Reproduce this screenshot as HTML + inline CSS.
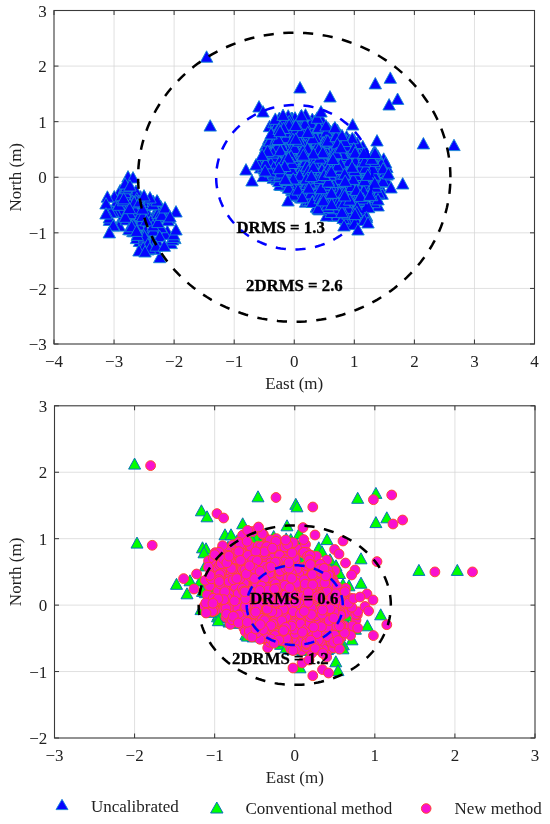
<!DOCTYPE html>
<html><head><meta charset="utf-8"><title>Scatter</title>
<style>html,body{margin:0;padding:0;background:#fff}svg{display:block}text{font-family:"Liberation Serif","Times New Roman",serif;fill:#222}text.b{font-weight:bold;fill:#000;stroke:#000;stroke-width:.3px}</style></head><body>
<svg width="550" height="824" viewBox="0 0 550 824">
<rect width="550" height="824" fill="#fff"/>
<defs><path id="tb" d="M0-6.4L6.2 5H-6.2Z" fill="#0505ff" stroke="#1488d2" stroke-width="0.9"/><path id="tg" d="M0-6.2L6 4.8H-6Z" fill="#00ff00" stroke="#0a72bd" stroke-width="1"/><circle id="cm" r="4.9" fill="#f910cf" stroke="#ff4a2e" stroke-width="1"/></defs>
<path d="M114.06 10.5V344.0M174.12 10.5V344.0M234.19 10.5V344.0M294.25 10.5V344.0M354.31 10.5V344.0M414.38 10.5V344.0M474.44 10.5V344.0M54.0 288.42H534.5M54.0 232.83H534.5M54.0 177.25H534.5M54.0 121.67H534.5M54.0 66.08H534.5" stroke="#d6d6d6" stroke-width="0.75" fill="none"/>
<g>
<use href="#tb" x="155.5" y="230.0"/>
<use href="#tb" x="141.8" y="240.3"/>
<use href="#tb" x="130.1" y="229.8"/>
<use href="#tb" x="130.5" y="200.1"/>
<use href="#tb" x="140.8" y="235.2"/>
<use href="#tb" x="128.9" y="195.5"/>
<use href="#tb" x="132.9" y="231.7"/>
<use href="#tb" x="169.2" y="218.6"/>
<use href="#tb" x="157.5" y="217.5"/>
<use href="#tb" x="122.3" y="217.7"/>
<use href="#tb" x="138.0" y="234.0"/>
<use href="#tb" x="124.8" y="189.6"/>
<use href="#tb" x="150.8" y="245.4"/>
<use href="#tb" x="118.7" y="225.7"/>
<use href="#tb" x="122.8" y="207.6"/>
<use href="#tb" x="135.9" y="224.2"/>
<use href="#tb" x="147.9" y="250.0"/>
<use href="#tb" x="135.1" y="228.2"/>
<use href="#tb" x="134.2" y="231.7"/>
<use href="#tb" x="117.0" y="201.5"/>
<use href="#tb" x="159.1" y="210.8"/>
<use href="#tb" x="150.3" y="243.0"/>
<use href="#tb" x="144.7" y="217.9"/>
<use href="#tb" x="148.7" y="243.8"/>
<use href="#tb" x="136.8" y="210.5"/>
<use href="#tb" x="166.0" y="211.0"/>
<use href="#tb" x="167.0" y="234.3"/>
<use href="#tb" x="144.6" y="231.3"/>
<use href="#tb" x="120.1" y="190.8"/>
<use href="#tb" x="143.7" y="234.7"/>
<use href="#tb" x="142.8" y="242.1"/>
<use href="#tb" x="109.5" y="220.4"/>
<use href="#tb" x="109.4" y="209.7"/>
<use href="#tb" x="154.5" y="214.8"/>
<use href="#tb" x="162.8" y="233.7"/>
<use href="#tb" x="171.2" y="243.6"/>
<use href="#tb" x="138.8" y="225.1"/>
<use href="#tb" x="119.3" y="226.1"/>
<use href="#tb" x="140.6" y="197.0"/>
<use href="#tb" x="126.5" y="214.7"/>
<use href="#tb" x="121.8" y="211.0"/>
<use href="#tb" x="134.5" y="216.4"/>
<use href="#tb" x="146.3" y="211.1"/>
<use href="#tb" x="116.2" y="212.6"/>
<use href="#tb" x="130.2" y="215.2"/>
<use href="#tb" x="146.6" y="212.2"/>
<use href="#tb" x="152.2" y="218.5"/>
<use href="#tb" x="133.6" y="209.6"/>
<use href="#tb" x="167.3" y="231.7"/>
<use href="#tb" x="153.9" y="218.6"/>
<use href="#tb" x="144.9" y="205.5"/>
<use href="#tb" x="174.9" y="238.6"/>
<use href="#tb" x="159.1" y="205.3"/>
<use href="#tb" x="128.1" y="210.3"/>
<use href="#tb" x="120.6" y="196.3"/>
<use href="#tb" x="136.8" y="209.4"/>
<use href="#tb" x="168.2" y="220.8"/>
<use href="#tb" x="139.5" y="241.5"/>
<use href="#tb" x="151.7" y="230.5"/>
<use href="#tb" x="171.7" y="239.3"/>
<use href="#tb" x="124.8" y="187.7"/>
<use href="#tb" x="144.3" y="234.6"/>
<use href="#tb" x="150.8" y="221.4"/>
<use href="#tb" x="112.8" y="211.9"/>
<use href="#tb" x="110.8" y="212.7"/>
<use href="#tb" x="136.5" y="238.6"/>
<use href="#tb" x="136.0" y="191.3"/>
<use href="#tb" x="109.3" y="218.0"/>
<use href="#tb" x="143.3" y="203.5"/>
<use href="#tb" x="160.7" y="206.6"/>
<use href="#tb" x="136.8" y="198.8"/>
<use href="#tb" x="126.5" y="204.7"/>
<use href="#tb" x="132.7" y="223.9"/>
<use href="#tb" x="126.8" y="218.1"/>
<use href="#tb" x="172.5" y="239.9"/>
<use href="#tb" x="142.5" y="205.2"/>
<use href="#tb" x="146.6" y="204.8"/>
<use href="#tb" x="145.6" y="231.4"/>
<use href="#tb" x="159.7" y="257.7"/>
<use href="#tb" x="133.1" y="207.1"/>
<use href="#tb" x="142.5" y="220.2"/>
<use href="#tb" x="123.1" y="198.8"/>
<use href="#tb" x="151.9" y="242.4"/>
<use href="#tb" x="157.9" y="213.6"/>
<use href="#tb" x="132.2" y="201.2"/>
<use href="#tb" x="138.2" y="214.3"/>
<use href="#tb" x="113.8" y="225.5"/>
<use href="#tb" x="136.7" y="201.5"/>
<use href="#tb" x="165.1" y="234.4"/>
<use href="#tb" x="133.9" y="202.2"/>
<use href="#tb" x="114.3" y="196.9"/>
<use href="#tb" x="129.9" y="204.9"/>
<use href="#tb" x="125.0" y="192.7"/>
<use href="#tb" x="143.8" y="235.6"/>
<use href="#tb" x="134.4" y="206.2"/>
<use href="#tb" x="135.4" y="211.2"/>
<use href="#tb" x="118.7" y="205.3"/>
<use href="#tb" x="160.9" y="227.7"/>
<use href="#tb" x="142.8" y="202.9"/>
<use href="#tb" x="153.3" y="241.1"/>
<use href="#tb" x="126.4" y="219.9"/>
<use href="#tb" x="144.3" y="239.1"/>
<use href="#tb" x="144.5" y="237.0"/>
<use href="#tb" x="146.2" y="201.3"/>
<use href="#tb" x="134.3" y="202.9"/>
<use href="#tb" x="157.0" y="241.0"/>
<use href="#tb" x="153.5" y="227.8"/>
<use href="#tb" x="121.5" y="195.8"/>
<use href="#tb" x="157.4" y="201.6"/>
<use href="#tb" x="140.1" y="215.7"/>
<use href="#tb" x="153.3" y="230.9"/>
<use href="#tb" x="159.7" y="236.6"/>
<use href="#tb" x="147.8" y="244.6"/>
<use href="#tb" x="153.0" y="225.9"/>
<use href="#tb" x="135.5" y="231.4"/>
<use href="#tb" x="154.2" y="249.3"/>
<use href="#tb" x="144.0" y="203.5"/>
<use href="#tb" x="168.8" y="216.0"/>
<use href="#tb" x="107.4" y="197.2"/>
<use href="#tb" x="153.2" y="201.5"/>
<use href="#tb" x="173.6" y="237.4"/>
<use href="#tb" x="129.7" y="213.7"/>
<use href="#tb" x="143.2" y="248.1"/>
<use href="#tb" x="123.5" y="200.8"/>
<use href="#tb" x="126.2" y="188.8"/>
<use href="#tb" x="135.6" y="228.2"/>
<use href="#tb" x="128.9" y="229.7"/>
<use href="#tb" x="133.7" y="226.0"/>
<use href="#tb" x="173.7" y="234.8"/>
<use href="#tb" x="149.7" y="248.9"/>
<use href="#tb" x="125.3" y="217.3"/>
<use href="#tb" x="143.7" y="216.2"/>
<use href="#tb" x="126.8" y="186.8"/>
<use href="#tb" x="113.3" y="225.9"/>
<use href="#tb" x="157.9" y="222.6"/>
<use href="#tb" x="131.6" y="226.8"/>
<use href="#tb" x="129.5" y="208.7"/>
<use href="#tb" x="153.0" y="204.8"/>
<use href="#tb" x="161.0" y="212.9"/>
<use href="#tb" x="109.3" y="232.9"/>
<use href="#tb" x="161.8" y="215.4"/>
<use href="#tb" x="123.7" y="198.9"/>
<use href="#tb" x="137.3" y="235.4"/>
<use href="#tb" x="142.7" y="216.4"/>
<use href="#tb" x="156.1" y="246.2"/>
<use href="#tb" x="164.3" y="246.3"/>
<use href="#tb" x="146.4" y="220.9"/>
<use href="#tb" x="136.5" y="231.4"/>
<use href="#tb" x="139.7" y="201.9"/>
<use href="#tb" x="142.6" y="209.1"/>
<use href="#tb" x="300.3" y="153.2"/>
<use href="#tb" x="361.5" y="183.4"/>
<use href="#tb" x="362.8" y="146.7"/>
<use href="#tb" x="334.7" y="143.1"/>
<use href="#tb" x="311.1" y="177.2"/>
<use href="#tb" x="314.6" y="200.0"/>
<use href="#tb" x="281.7" y="133.6"/>
<use href="#tb" x="347.1" y="192.2"/>
<use href="#tb" x="343.8" y="144.0"/>
<use href="#tb" x="364.6" y="160.5"/>
<use href="#tb" x="288.9" y="181.5"/>
<use href="#tb" x="269.8" y="147.3"/>
<use href="#tb" x="342.5" y="154.2"/>
<use href="#tb" x="354.7" y="155.7"/>
<use href="#tb" x="353.3" y="212.8"/>
<use href="#tb" x="314.0" y="134.7"/>
<use href="#tb" x="384.5" y="174.5"/>
<use href="#tb" x="269.0" y="149.3"/>
<use href="#tb" x="316.9" y="150.9"/>
<use href="#tb" x="335.5" y="182.4"/>
<use href="#tb" x="331.5" y="146.3"/>
<use href="#tb" x="357.4" y="204.5"/>
<use href="#tb" x="313.7" y="193.2"/>
<use href="#tb" x="318.0" y="136.9"/>
<use href="#tb" x="335.0" y="197.5"/>
<use href="#tb" x="281.6" y="160.7"/>
<use href="#tb" x="366.4" y="215.7"/>
<use href="#tb" x="301.7" y="149.9"/>
<use href="#tb" x="267.6" y="164.9"/>
<use href="#tb" x="307.2" y="138.6"/>
<use href="#tb" x="317.2" y="173.7"/>
<use href="#tb" x="260.6" y="168.0"/>
<use href="#tb" x="301.5" y="173.7"/>
<use href="#tb" x="300.8" y="182.1"/>
<use href="#tb" x="320.5" y="164.4"/>
<use href="#tb" x="325.4" y="179.4"/>
<use href="#tb" x="305.5" y="172.2"/>
<use href="#tb" x="283.0" y="169.8"/>
<use href="#tb" x="351.6" y="168.8"/>
<use href="#tb" x="347.8" y="185.1"/>
<use href="#tb" x="299.6" y="173.4"/>
<use href="#tb" x="368.5" y="190.1"/>
<use href="#tb" x="309.9" y="189.3"/>
<use href="#tb" x="345.3" y="150.9"/>
<use href="#tb" x="355.0" y="218.9"/>
<use href="#tb" x="322.4" y="159.7"/>
<use href="#tb" x="293.9" y="134.7"/>
<use href="#tb" x="329.3" y="214.1"/>
<use href="#tb" x="365.7" y="188.6"/>
<use href="#tb" x="276.7" y="139.9"/>
<use href="#tb" x="264.5" y="165.1"/>
<use href="#tb" x="293.3" y="162.7"/>
<use href="#tb" x="276.4" y="165.7"/>
<use href="#tb" x="364.0" y="171.7"/>
<use href="#tb" x="352.1" y="195.9"/>
<use href="#tb" x="315.2" y="167.5"/>
<use href="#tb" x="333.5" y="129.6"/>
<use href="#tb" x="336.1" y="196.0"/>
<use href="#tb" x="295.5" y="148.9"/>
<use href="#tb" x="301.7" y="160.7"/>
<use href="#tb" x="279.4" y="146.0"/>
<use href="#tb" x="304.8" y="192.0"/>
<use href="#tb" x="322.2" y="171.1"/>
<use href="#tb" x="329.2" y="161.7"/>
<use href="#tb" x="289.7" y="158.4"/>
<use href="#tb" x="323.1" y="138.0"/>
<use href="#tb" x="304.6" y="154.3"/>
<use href="#tb" x="275.8" y="139.9"/>
<use href="#tb" x="326.6" y="178.3"/>
<use href="#tb" x="332.4" y="152.6"/>
<use href="#tb" x="333.3" y="200.2"/>
<use href="#tb" x="294.6" y="179.5"/>
<use href="#tb" x="353.3" y="157.6"/>
<use href="#tb" x="352.7" y="211.7"/>
<use href="#tb" x="317.1" y="150.9"/>
<use href="#tb" x="315.5" y="156.8"/>
<use href="#tb" x="344.3" y="158.6"/>
<use href="#tb" x="316.6" y="150.0"/>
<use href="#tb" x="319.9" y="207.5"/>
<use href="#tb" x="323.6" y="125.7"/>
<use href="#tb" x="358.8" y="155.2"/>
<use href="#tb" x="285.7" y="152.5"/>
<use href="#tb" x="385.1" y="168.5"/>
<use href="#tb" x="310.1" y="182.7"/>
<use href="#tb" x="280.5" y="142.7"/>
<use href="#tb" x="297.3" y="169.4"/>
<use href="#tb" x="387.3" y="182.2"/>
<use href="#tb" x="332.5" y="186.9"/>
<use href="#tb" x="344.6" y="202.3"/>
<use href="#tb" x="308.8" y="141.4"/>
<use href="#tb" x="335.7" y="161.9"/>
<use href="#tb" x="318.6" y="147.5"/>
<use href="#tb" x="356.9" y="204.7"/>
<use href="#tb" x="325.2" y="163.8"/>
<use href="#tb" x="329.0" y="133.7"/>
<use href="#tb" x="301.7" y="189.5"/>
<use href="#tb" x="286.7" y="186.2"/>
<use href="#tb" x="334.1" y="205.1"/>
<use href="#tb" x="301.8" y="163.2"/>
<use href="#tb" x="354.2" y="153.9"/>
<use href="#tb" x="334.2" y="189.3"/>
<use href="#tb" x="343.5" y="149.4"/>
<use href="#tb" x="358.5" y="154.8"/>
<use href="#tb" x="334.4" y="185.7"/>
<use href="#tb" x="321.5" y="182.0"/>
<use href="#tb" x="291.3" y="172.0"/>
<use href="#tb" x="350.4" y="217.1"/>
<use href="#tb" x="344.6" y="191.8"/>
<use href="#tb" x="290.9" y="140.1"/>
<use href="#tb" x="313.0" y="184.6"/>
<use href="#tb" x="275.2" y="147.7"/>
<use href="#tb" x="317.3" y="187.1"/>
<use href="#tb" x="272.7" y="168.3"/>
<use href="#tb" x="295.4" y="185.5"/>
<use href="#tb" x="358.6" y="207.8"/>
<use href="#tb" x="373.8" y="183.1"/>
<use href="#tb" x="339.9" y="154.3"/>
<use href="#tb" x="335.3" y="155.5"/>
<use href="#tb" x="291.0" y="182.5"/>
<use href="#tb" x="291.4" y="118.4"/>
<use href="#tb" x="329.8" y="155.6"/>
<use href="#tb" x="344.6" y="159.3"/>
<use href="#tb" x="370.5" y="182.5"/>
<use href="#tb" x="349.7" y="140.6"/>
<use href="#tb" x="305.6" y="202.2"/>
<use href="#tb" x="334.5" y="189.1"/>
<use href="#tb" x="348.0" y="140.4"/>
<use href="#tb" x="312.8" y="129.4"/>
<use href="#tb" x="338.6" y="155.7"/>
<use href="#tb" x="343.4" y="170.0"/>
<use href="#tb" x="277.2" y="179.8"/>
<use href="#tb" x="356.5" y="178.0"/>
<use href="#tb" x="265.8" y="145.3"/>
<use href="#tb" x="348.3" y="207.4"/>
<use href="#tb" x="343.3" y="170.3"/>
<use href="#tb" x="378.1" y="206.0"/>
<use href="#tb" x="322.3" y="147.3"/>
<use href="#tb" x="297.4" y="135.8"/>
<use href="#tb" x="306.8" y="139.8"/>
<use href="#tb" x="267.6" y="169.4"/>
<use href="#tb" x="288.5" y="132.3"/>
<use href="#tb" x="300.3" y="185.4"/>
<use href="#tb" x="328.1" y="129.5"/>
<use href="#tb" x="292.9" y="132.0"/>
<use href="#tb" x="318.6" y="127.3"/>
<use href="#tb" x="281.0" y="185.5"/>
<use href="#tb" x="354.8" y="207.1"/>
<use href="#tb" x="281.1" y="164.8"/>
<use href="#tb" x="309.7" y="175.8"/>
<use href="#tb" x="281.0" y="177.8"/>
<use href="#tb" x="355.7" y="161.6"/>
<use href="#tb" x="350.3" y="185.6"/>
<use href="#tb" x="347.6" y="197.1"/>
<use href="#tb" x="302.0" y="173.4"/>
<use href="#tb" x="281.4" y="150.8"/>
<use href="#tb" x="279.3" y="150.8"/>
<use href="#tb" x="357.3" y="163.1"/>
<use href="#tb" x="370.0" y="188.8"/>
<use href="#tb" x="364.9" y="167.9"/>
<use href="#tb" x="296.4" y="192.8"/>
<use href="#tb" x="356.4" y="188.5"/>
<use href="#tb" x="298.4" y="193.4"/>
<use href="#tb" x="286.0" y="133.5"/>
<use href="#tb" x="341.2" y="159.8"/>
<use href="#tb" x="351.8" y="176.1"/>
<use href="#tb" x="287.8" y="166.8"/>
<use href="#tb" x="346.3" y="192.5"/>
<use href="#tb" x="313.4" y="169.2"/>
<use href="#tb" x="307.0" y="149.3"/>
<use href="#tb" x="323.8" y="167.6"/>
<use href="#tb" x="340.1" y="135.2"/>
<use href="#tb" x="349.8" y="156.9"/>
<use href="#tb" x="303.7" y="145.5"/>
<use href="#tb" x="357.0" y="163.6"/>
<use href="#tb" x="337.2" y="199.7"/>
<use href="#tb" x="267.5" y="151.6"/>
<use href="#tb" x="279.8" y="185.1"/>
<use href="#tb" x="288.6" y="144.5"/>
<use href="#tb" x="336.6" y="167.9"/>
<use href="#tb" x="297.6" y="153.8"/>
<use href="#tb" x="335.1" y="176.3"/>
<use href="#tb" x="293.3" y="157.8"/>
<use href="#tb" x="312.4" y="166.1"/>
<use href="#tb" x="332.2" y="181.2"/>
<use href="#tb" x="342.8" y="170.3"/>
<use href="#tb" x="373.5" y="162.3"/>
<use href="#tb" x="325.0" y="179.5"/>
<use href="#tb" x="330.9" y="140.0"/>
<use href="#tb" x="278.5" y="130.9"/>
<use href="#tb" x="314.2" y="174.6"/>
<use href="#tb" x="326.8" y="162.6"/>
<use href="#tb" x="346.2" y="180.4"/>
<use href="#tb" x="315.9" y="153.9"/>
<use href="#tb" x="375.9" y="200.1"/>
<use href="#tb" x="379.8" y="186.2"/>
<use href="#tb" x="320.1" y="122.2"/>
<use href="#tb" x="295.1" y="167.4"/>
<use href="#tb" x="297.7" y="143.4"/>
<use href="#tb" x="331.5" y="184.4"/>
<use href="#tb" x="292.3" y="118.6"/>
<use href="#tb" x="313.0" y="187.0"/>
<use href="#tb" x="300.3" y="128.7"/>
<use href="#tb" x="317.7" y="135.3"/>
<use href="#tb" x="295.2" y="158.1"/>
<use href="#tb" x="378.0" y="189.7"/>
<use href="#tb" x="326.7" y="156.6"/>
<use href="#tb" x="317.5" y="198.6"/>
<use href="#tb" x="333.9" y="216.2"/>
<use href="#tb" x="334.7" y="137.2"/>
<use href="#tb" x="333.6" y="183.1"/>
<use href="#tb" x="292.3" y="150.8"/>
<use href="#tb" x="331.0" y="187.8"/>
<use href="#tb" x="296.0" y="143.7"/>
<use href="#tb" x="267.2" y="157.7"/>
<use href="#tb" x="293.0" y="125.1"/>
<use href="#tb" x="294.8" y="141.4"/>
<use href="#tb" x="268.9" y="138.7"/>
<use href="#tb" x="357.6" y="180.5"/>
<use href="#tb" x="324.5" y="183.6"/>
<use href="#tb" x="298.7" y="176.6"/>
<use href="#tb" x="318.6" y="196.2"/>
<use href="#tb" x="319.2" y="167.7"/>
<use href="#tb" x="318.8" y="205.6"/>
<use href="#tb" x="338.2" y="181.8"/>
<use href="#tb" x="335.3" y="155.7"/>
<use href="#tb" x="344.3" y="155.7"/>
<use href="#tb" x="362.1" y="190.6"/>
<use href="#tb" x="358.0" y="165.4"/>
<use href="#tb" x="322.5" y="161.6"/>
<use href="#tb" x="278.8" y="124.3"/>
<use href="#tb" x="275.8" y="167.0"/>
<use href="#tb" x="338.0" y="215.8"/>
<use href="#tb" x="280.4" y="174.8"/>
<use href="#tb" x="300.8" y="197.9"/>
<use href="#tb" x="331.6" y="204.8"/>
<use href="#tb" x="338.5" y="161.1"/>
<use href="#tb" x="310.5" y="164.6"/>
<use href="#tb" x="293.2" y="190.2"/>
<use href="#tb" x="324.2" y="190.7"/>
<use href="#tb" x="337.2" y="168.5"/>
<use href="#tb" x="317.3" y="127.8"/>
<use href="#tb" x="345.3" y="152.4"/>
<use href="#tb" x="290.7" y="139.4"/>
<use href="#tb" x="278.1" y="177.2"/>
<use href="#tb" x="307.6" y="148.2"/>
<use href="#tb" x="343.1" y="208.5"/>
<use href="#tb" x="362.6" y="192.3"/>
<use href="#tb" x="363.8" y="185.4"/>
<use href="#tb" x="286.0" y="181.4"/>
<use href="#tb" x="319.7" y="131.0"/>
<use href="#tb" x="343.6" y="187.2"/>
<use href="#tb" x="323.0" y="133.9"/>
<use href="#tb" x="303.4" y="165.7"/>
<use href="#tb" x="325.3" y="152.1"/>
<use href="#tb" x="329.4" y="147.3"/>
<use href="#tb" x="324.3" y="200.4"/>
<use href="#tb" x="363.4" y="190.0"/>
<use href="#tb" x="285.3" y="122.9"/>
<use href="#tb" x="341.1" y="197.0"/>
<use href="#tb" x="330.6" y="183.7"/>
<use href="#tb" x="378.3" y="187.3"/>
<use href="#tb" x="329.1" y="161.7"/>
<use href="#tb" x="276.0" y="164.0"/>
<use href="#tb" x="383.3" y="171.2"/>
<use href="#tb" x="334.6" y="137.4"/>
<use href="#tb" x="287.5" y="174.5"/>
<use href="#tb" x="316.4" y="153.2"/>
<use href="#tb" x="351.4" y="161.2"/>
<use href="#tb" x="281.1" y="129.5"/>
<use href="#tb" x="340.9" y="182.9"/>
<use href="#tb" x="355.6" y="172.9"/>
<use href="#tb" x="306.4" y="177.3"/>
<use href="#tb" x="301.7" y="146.6"/>
<use href="#tb" x="319.6" y="183.9"/>
<use href="#tb" x="333.1" y="187.5"/>
<use href="#tb" x="316.3" y="142.8"/>
<use href="#tb" x="324.0" y="187.4"/>
<use href="#tb" x="284.2" y="181.5"/>
<use href="#tb" x="267.4" y="159.6"/>
<use href="#tb" x="292.4" y="143.5"/>
<use href="#tb" x="341.5" y="178.8"/>
<use href="#tb" x="299.5" y="177.4"/>
<use href="#tb" x="289.0" y="160.3"/>
<use href="#tb" x="340.7" y="154.9"/>
<use href="#tb" x="342.5" y="177.1"/>
<use href="#tb" x="354.2" y="201.7"/>
<use href="#tb" x="283.0" y="168.3"/>
<use href="#tb" x="345.8" y="219.7"/>
<use href="#tb" x="339.3" y="184.6"/>
<use href="#tb" x="371.0" y="186.1"/>
<use href="#tb" x="342.0" y="197.3"/>
<use href="#tb" x="297.5" y="159.0"/>
<use href="#tb" x="383.7" y="159.2"/>
<use href="#tb" x="356.9" y="195.3"/>
<use href="#tb" x="357.3" y="179.9"/>
<use href="#tb" x="345.7" y="152.1"/>
<use href="#tb" x="347.0" y="174.9"/>
<use href="#tb" x="289.6" y="152.6"/>
<use href="#tb" x="294.9" y="141.4"/>
<use href="#tb" x="343.8" y="193.2"/>
<use href="#tb" x="307.7" y="180.8"/>
<use href="#tb" x="322.1" y="204.2"/>
<use href="#tb" x="305.8" y="153.4"/>
<use href="#tb" x="328.5" y="128.9"/>
<use href="#tb" x="295.9" y="162.9"/>
<use href="#tb" x="377.7" y="182.7"/>
<use href="#tb" x="325.4" y="143.0"/>
<use href="#tb" x="363.7" y="175.2"/>
<use href="#tb" x="300.1" y="167.7"/>
<use href="#tb" x="319.7" y="130.6"/>
<use href="#tb" x="294.8" y="172.3"/>
<use href="#tb" x="367.2" y="167.9"/>
<use href="#tb" x="317.4" y="190.2"/>
<use href="#tb" x="299.8" y="138.9"/>
<use href="#tb" x="319.3" y="200.8"/>
<use href="#tb" x="303.5" y="123.0"/>
<use href="#tb" x="271.8" y="137.4"/>
<use href="#tb" x="289.7" y="128.9"/>
<use href="#tb" x="316.8" y="196.1"/>
<use href="#tb" x="378.5" y="167.2"/>
<use href="#tb" x="323.1" y="175.6"/>
<use href="#tb" x="307.7" y="178.1"/>
<use href="#tb" x="376.4" y="185.6"/>
<use href="#tb" x="290.8" y="134.0"/>
<use href="#tb" x="279.7" y="152.5"/>
<use href="#tb" x="361.3" y="189.8"/>
<use href="#tb" x="314.2" y="176.6"/>
<use href="#tb" x="273.3" y="178.3"/>
<use href="#tb" x="309.3" y="198.5"/>
<use href="#tb" x="328.7" y="160.5"/>
<use href="#tb" x="347.4" y="158.7"/>
<use href="#tb" x="328.7" y="193.7"/>
<use href="#tb" x="342.0" y="189.5"/>
<use href="#tb" x="336.8" y="208.7"/>
<use href="#tb" x="296.4" y="181.6"/>
<use href="#tb" x="323.2" y="180.9"/>
<use href="#tb" x="300.9" y="165.5"/>
<use href="#tb" x="365.3" y="154.2"/>
<use href="#tb" x="282.9" y="134.0"/>
<use href="#tb" x="337.8" y="171.1"/>
<use href="#tb" x="384.7" y="167.7"/>
<use href="#tb" x="328.2" y="166.2"/>
<use href="#tb" x="315.6" y="175.4"/>
<use href="#tb" x="347.4" y="193.9"/>
<use href="#tb" x="343.9" y="170.8"/>
<use href="#tb" x="275.0" y="166.8"/>
<use href="#tb" x="356.2" y="196.4"/>
<use href="#tb" x="277.1" y="129.2"/>
<use href="#tb" x="299.6" y="140.5"/>
<use href="#tb" x="310.9" y="135.1"/>
<use href="#tb" x="362.4" y="171.8"/>
<use href="#tb" x="353.6" y="183.0"/>
<use href="#tb" x="386.9" y="167.6"/>
<use href="#tb" x="342.2" y="179.7"/>
<use href="#tb" x="304.3" y="168.1"/>
<use href="#tb" x="304.1" y="136.0"/>
<use href="#tb" x="324.0" y="139.2"/>
<use href="#tb" x="354.6" y="224.4"/>
<use href="#tb" x="326.3" y="158.9"/>
<use href="#tb" x="336.0" y="178.9"/>
<use href="#tb" x="322.2" y="201.7"/>
<use href="#tb" x="307.3" y="184.4"/>
<use href="#tb" x="359.3" y="160.4"/>
<use href="#tb" x="329.8" y="173.5"/>
<use href="#tb" x="322.4" y="208.1"/>
<use href="#tb" x="293.4" y="192.5"/>
<use href="#tb" x="329.6" y="149.5"/>
<use href="#tb" x="277.7" y="144.9"/>
<use href="#tb" x="355.9" y="144.2"/>
<use href="#tb" x="336.2" y="153.9"/>
<use href="#tb" x="325.0" y="139.7"/>
<use href="#tb" x="291.3" y="135.2"/>
<use href="#tb" x="334.2" y="212.3"/>
<use href="#tb" x="335.1" y="128.8"/>
<use href="#tb" x="325.2" y="133.5"/>
<use href="#tb" x="292.4" y="158.1"/>
<use href="#tb" x="323.6" y="203.4"/>
<use href="#tb" x="346.0" y="208.1"/>
<use href="#tb" x="325.3" y="167.6"/>
<use href="#tb" x="303.8" y="167.9"/>
<use href="#tb" x="321.7" y="171.7"/>
<use href="#tb" x="364.0" y="172.8"/>
<use href="#tb" x="310.3" y="178.7"/>
<use href="#tb" x="308.6" y="184.1"/>
<use href="#tb" x="268.0" y="149.4"/>
<use href="#tb" x="292.1" y="120.6"/>
<use href="#tb" x="312.6" y="128.9"/>
<use href="#tb" x="330.6" y="164.8"/>
<use href="#tb" x="349.3" y="222.4"/>
<use href="#tb" x="361.1" y="191.2"/>
<use href="#tb" x="288.8" y="136.0"/>
<use href="#tb" x="319.8" y="207.7"/>
<use href="#tb" x="357.5" y="163.5"/>
<use href="#tb" x="345.9" y="142.0"/>
<use href="#tb" x="303.3" y="160.5"/>
<use href="#tb" x="292.1" y="123.1"/>
<use href="#tb" x="292.7" y="179.1"/>
<use href="#tb" x="308.7" y="197.6"/>
<use href="#tb" x="307.9" y="200.9"/>
<use href="#tb" x="301.9" y="171.9"/>
<use href="#tb" x="346.9" y="178.0"/>
<use href="#tb" x="379.6" y="168.1"/>
<use href="#tb" x="307.4" y="175.4"/>
<use href="#tb" x="329.6" y="206.9"/>
<use href="#tb" x="378.8" y="191.9"/>
<use href="#tb" x="354.0" y="140.1"/>
<use href="#tb" x="291.9" y="160.6"/>
<use href="#tb" x="290.1" y="141.3"/>
<use href="#tb" x="340.7" y="202.3"/>
<use href="#tb" x="299.9" y="165.2"/>
<use href="#tb" x="311.9" y="168.8"/>
<use href="#tb" x="291.9" y="190.4"/>
<use href="#tb" x="289.1" y="151.9"/>
<use href="#tb" x="304.0" y="162.5"/>
<use href="#tb" x="300.7" y="132.9"/>
<use href="#tb" x="360.8" y="151.6"/>
<use href="#tb" x="352.0" y="183.2"/>
<use href="#tb" x="304.8" y="192.4"/>
<use href="#tb" x="370.8" y="180.6"/>
<use href="#tb" x="325.3" y="160.8"/>
<use href="#tb" x="282.5" y="156.4"/>
<use href="#tb" x="330.6" y="156.9"/>
<use href="#tb" x="292.3" y="141.9"/>
<use href="#tb" x="286.0" y="156.0"/>
<use href="#tb" x="298.2" y="174.8"/>
<use href="#tb" x="310.9" y="155.0"/>
<use href="#tb" x="313.9" y="150.8"/>
<use href="#tb" x="269.5" y="126.7"/>
<use href="#tb" x="343.8" y="181.2"/>
<use href="#tb" x="308.8" y="173.7"/>
<use href="#tb" x="349.2" y="145.1"/>
<use href="#tb" x="308.2" y="154.9"/>
<use href="#tb" x="349.0" y="186.6"/>
<use href="#tb" x="302.5" y="120.0"/>
<use href="#tb" x="373.3" y="183.6"/>
<use href="#tb" x="295.2" y="130.7"/>
<use href="#tb" x="339.5" y="167.4"/>
<use href="#tb" x="387.0" y="175.1"/>
<use href="#tb" x="321.6" y="166.1"/>
<use href="#tb" x="314.8" y="183.1"/>
<use href="#tb" x="330.9" y="170.7"/>
<use href="#tb" x="293.4" y="143.9"/>
<use href="#tb" x="346.6" y="136.9"/>
<use href="#tb" x="345.3" y="192.4"/>
<use href="#tb" x="323.3" y="151.8"/>
<use href="#tb" x="327.5" y="152.6"/>
<use href="#tb" x="282.0" y="153.8"/>
<use href="#tb" x="365.9" y="162.4"/>
<use href="#tb" x="300.3" y="189.4"/>
<use href="#tb" x="267.3" y="154.1"/>
<use href="#tb" x="346.0" y="188.1"/>
<use href="#tb" x="316.5" y="175.6"/>
<use href="#tb" x="343.8" y="199.3"/>
<use href="#tb" x="298.0" y="128.7"/>
<use href="#tb" x="291.4" y="188.8"/>
<use href="#tb" x="295.0" y="118.1"/>
<use href="#tb" x="377.5" y="194.3"/>
<use href="#tb" x="356.4" y="210.7"/>
<use href="#tb" x="386.6" y="173.5"/>
<use href="#tb" x="371.4" y="193.4"/>
<use href="#tb" x="360.1" y="198.4"/>
<use href="#tb" x="373.8" y="200.4"/>
<use href="#tb" x="334.1" y="172.5"/>
<use href="#tb" x="294.2" y="171.1"/>
<use href="#tb" x="317.1" y="169.5"/>
<use href="#tb" x="338.6" y="190.9"/>
<use href="#tb" x="336.6" y="132.8"/>
<use href="#tb" x="352.7" y="150.5"/>
<use href="#tb" x="316.6" y="139.1"/>
<use href="#tb" x="342.0" y="191.3"/>
<use href="#tb" x="300.0" y="196.2"/>
<use href="#tb" x="339.2" y="189.5"/>
<use href="#tb" x="335.3" y="197.3"/>
<use href="#tb" x="354.3" y="201.7"/>
<use href="#tb" x="318.9" y="140.3"/>
<use href="#tb" x="340.7" y="158.6"/>
<use href="#tb" x="278.8" y="181.6"/>
<use href="#tb" x="301.8" y="197.9"/>
<use href="#tb" x="305.7" y="151.9"/>
<use href="#tb" x="375.6" y="153.1"/>
<use href="#tb" x="360.7" y="177.6"/>
<use href="#tb" x="299.9" y="190.8"/>
<use href="#tb" x="347.5" y="177.6"/>
<use href="#tb" x="329.6" y="184.9"/>
<use href="#tb" x="317.8" y="168.2"/>
<use href="#tb" x="324.9" y="187.9"/>
<use href="#tb" x="337.3" y="216.0"/>
<use href="#tb" x="345.9" y="139.8"/>
<use href="#tb" x="328.1" y="140.4"/>
<use href="#tb" x="328.5" y="168.8"/>
<use href="#tb" x="274.0" y="169.8"/>
<use href="#tb" x="374.6" y="169.9"/>
<use href="#tb" x="344.4" y="189.1"/>
<use href="#tb" x="348.5" y="218.5"/>
<use href="#tb" x="321.4" y="124.8"/>
<use href="#tb" x="325.8" y="175.1"/>
<use href="#tb" x="342.1" y="192.9"/>
<use href="#tb" x="310.0" y="192.0"/>
<use href="#tb" x="300.5" y="152.2"/>
<use href="#tb" x="327.2" y="166.1"/>
<use href="#tb" x="362.4" y="153.7"/>
<use href="#tb" x="318.5" y="209.1"/>
<use href="#tb" x="346.7" y="143.3"/>
<use href="#tb" x="325.5" y="199.3"/>
<use href="#tb" x="286.9" y="130.1"/>
<use href="#tb" x="343.6" y="161.7"/>
<use href="#tb" x="265.8" y="147.9"/>
<use href="#tb" x="286.1" y="148.0"/>
<use href="#tb" x="295.4" y="192.8"/>
<use href="#tb" x="279.3" y="118.5"/>
<use href="#tb" x="321.5" y="199.8"/>
<use href="#tb" x="374.5" y="164.5"/>
<use href="#tb" x="280.1" y="123.8"/>
<use href="#tb" x="273.7" y="133.4"/>
<use href="#tb" x="320.4" y="134.6"/>
<use href="#tb" x="344.4" y="166.2"/>
<use href="#tb" x="293.8" y="167.7"/>
<use href="#tb" x="357.9" y="195.6"/>
<use href="#tb" x="364.3" y="164.1"/>
<use href="#tb" x="361.9" y="151.7"/>
<use href="#tb" x="367.9" y="169.1"/>
<use href="#tb" x="264.8" y="158.2"/>
<use href="#tb" x="349.8" y="161.5"/>
<use href="#tb" x="312.0" y="171.8"/>
<use href="#tb" x="335.8" y="154.2"/>
<use href="#tb" x="302.0" y="194.2"/>
<use href="#tb" x="311.1" y="136.5"/>
<use href="#tb" x="286.0" y="148.2"/>
<use href="#tb" x="280.8" y="142.4"/>
<use href="#tb" x="303.5" y="171.0"/>
<use href="#tb" x="295.7" y="154.2"/>
<use href="#tb" x="329.9" y="189.9"/>
<use href="#tb" x="335.1" y="178.7"/>
<use href="#tb" x="350.9" y="152.7"/>
<use href="#tb" x="360.1" y="168.4"/>
<use href="#tb" x="342.1" y="197.7"/>
<use href="#tb" x="366.9" y="193.6"/>
<use href="#tb" x="286.3" y="156.5"/>
<use href="#tb" x="330.0" y="131.4"/>
<use href="#tb" x="329.0" y="173.5"/>
<use href="#tb" x="304.5" y="153.9"/>
<use href="#tb" x="355.1" y="164.9"/>
<use href="#tb" x="342.9" y="170.9"/>
<use href="#tb" x="374.4" y="166.9"/>
<use href="#tb" x="275.4" y="169.7"/>
<use href="#tb" x="343.9" y="216.0"/>
<use href="#tb" x="345.0" y="144.0"/>
<use href="#tb" x="330.0" y="146.5"/>
<use href="#tb" x="327.8" y="163.3"/>
<use href="#tb" x="348.3" y="165.4"/>
<use href="#tb" x="366.0" y="216.2"/>
<use href="#tb" x="346.7" y="182.3"/>
<use href="#tb" x="377.8" y="156.3"/>
<use href="#tb" x="332.7" y="193.5"/>
<use href="#tb" x="325.1" y="159.7"/>
<use href="#tb" x="356.1" y="143.8"/>
<use href="#tb" x="333.2" y="173.3"/>
<use href="#tb" x="286.0" y="175.5"/>
<use href="#tb" x="374.1" y="202.7"/>
<use href="#tb" x="340.0" y="203.1"/>
<use href="#tb" x="312.3" y="119.5"/>
<use href="#tb" x="314.6" y="121.7"/>
<use href="#tb" x="295.0" y="195.8"/>
<use href="#tb" x="334.8" y="163.9"/>
<use href="#tb" x="319.1" y="174.1"/>
<use href="#tb" x="308.8" y="166.7"/>
<use href="#tb" x="271.5" y="176.0"/>
<use href="#tb" x="327.8" y="134.7"/>
<use href="#tb" x="306.8" y="145.4"/>
<use href="#tb" x="374.0" y="161.2"/>
<use href="#tb" x="330.6" y="198.7"/>
<use href="#tb" x="296.4" y="134.4"/>
<use href="#tb" x="338.6" y="179.3"/>
<use href="#tb" x="358.1" y="147.1"/>
<use href="#tb" x="317.6" y="180.8"/>
<use href="#tb" x="294.0" y="174.9"/>
<use href="#tb" x="300.2" y="152.6"/>
<use href="#tb" x="333.0" y="203.3"/>
<use href="#tb" x="329.5" y="161.5"/>
<use href="#tb" x="276.3" y="176.8"/>
<use href="#tb" x="290.7" y="125.7"/>
<use href="#tb" x="319.8" y="160.2"/>
<use href="#tb" x="308.3" y="158.7"/>
<use href="#tb" x="268.2" y="150.3"/>
<use href="#tb" x="349.3" y="186.6"/>
<use href="#tb" x="333.0" y="158.3"/>
<use href="#tb" x="275.0" y="171.8"/>
<use href="#tb" x="280.7" y="168.7"/>
<use href="#tb" x="308.7" y="173.2"/>
<use href="#tb" x="322.8" y="203.2"/>
<use href="#tb" x="330.0" y="154.5"/>
<use href="#tb" x="322.3" y="131.7"/>
<use href="#tb" x="385.7" y="163.0"/>
<use href="#tb" x="327.9" y="205.0"/>
<use href="#tb" x="315.5" y="180.0"/>
<use href="#tb" x="303.9" y="136.9"/>
<use href="#tb" x="335.4" y="158.8"/>
<use href="#tb" x="356.9" y="152.3"/>
<use href="#tb" x="288.2" y="116.1"/>
<use href="#tb" x="354.1" y="180.4"/>
<use href="#tb" x="298.6" y="180.5"/>
<use href="#tb" x="270.0" y="141.2"/>
<use href="#tb" x="303.1" y="156.1"/>
<use href="#tb" x="350.2" y="198.7"/>
<use href="#tb" x="350.2" y="207.0"/>
<use href="#tb" x="367.8" y="161.5"/>
<use href="#tb" x="316.5" y="161.4"/>
<use href="#tb" x="309.3" y="127.1"/>
<use href="#tb" x="345.0" y="163.8"/>
<use href="#tb" x="265.6" y="158.2"/>
<use href="#tb" x="334.8" y="187.1"/>
<use href="#tb" x="327.7" y="154.7"/>
<use href="#tb" x="345.6" y="219.1"/>
<use href="#tb" x="308.8" y="155.3"/>
<use href="#tb" x="309.0" y="131.3"/>
<use href="#tb" x="329.6" y="147.3"/>
<use href="#tb" x="281.9" y="121.9"/>
<use href="#tb" x="306.6" y="194.1"/>
<use href="#tb" x="320.2" y="171.1"/>
<use href="#tb" x="325.9" y="159.0"/>
<use href="#tb" x="385.0" y="172.5"/>
<use href="#tb" x="310.7" y="175.4"/>
<use href="#tb" x="297.1" y="183.1"/>
<use href="#tb" x="349.9" y="195.0"/>
<use href="#tb" x="326.7" y="203.0"/>
<use href="#tb" x="273.9" y="122.7"/>
<use href="#tb" x="343.1" y="218.5"/>
<use href="#tb" x="340.7" y="158.7"/>
<use href="#tb" x="349.4" y="167.7"/>
<use href="#tb" x="336.5" y="153.1"/>
<use href="#tb" x="319.9" y="178.5"/>
<use href="#tb" x="351.2" y="142.7"/>
<use href="#tb" x="269.4" y="158.8"/>
<use href="#tb" x="365.5" y="158.5"/>
<use href="#tb" x="295.6" y="162.2"/>
<use href="#tb" x="284.1" y="150.6"/>
<use href="#tb" x="344.0" y="199.5"/>
<use href="#tb" x="318.4" y="122.9"/>
<use href="#tb" x="354.9" y="153.4"/>
<use href="#tb" x="360.4" y="164.4"/>
<use href="#tb" x="302.7" y="155.2"/>
<use href="#tb" x="315.6" y="160.1"/>
<use href="#tb" x="327.2" y="159.1"/>
<use href="#tb" x="360.2" y="172.1"/>
<use href="#tb" x="311.2" y="196.3"/>
<use href="#tb" x="298.9" y="157.8"/>
<use href="#tb" x="276.9" y="137.3"/>
<use href="#tb" x="320.3" y="138.0"/>
<use href="#tb" x="368.6" y="161.5"/>
<use href="#tb" x="334.0" y="199.4"/>
<use href="#tb" x="366.7" y="193.4"/>
<use href="#tb" x="295.9" y="138.3"/>
<use href="#tb" x="325.0" y="189.1"/>
<use href="#tb" x="310.1" y="129.1"/>
<use href="#tb" x="330.7" y="183.9"/>
<use href="#tb" x="263.3" y="176.6"/>
<use href="#tb" x="304.8" y="157.1"/>
<use href="#tb" x="277.5" y="147.3"/>
<use href="#tb" x="357.3" y="143.6"/>
<use href="#tb" x="341.8" y="154.3"/>
<use href="#tb" x="334.2" y="174.0"/>
<use href="#tb" x="267.1" y="155.0"/>
<use href="#tb" x="318.1" y="159.0"/>
<use href="#tb" x="296.6" y="192.6"/>
<use href="#tb" x="324.8" y="139.7"/>
<use href="#tb" x="310.7" y="200.5"/>
<use href="#tb" x="308.5" y="149.8"/>
<use href="#tb" x="358.6" y="201.8"/>
<use href="#tb" x="280.9" y="125.5"/>
<use href="#tb" x="298.6" y="164.9"/>
<use href="#tb" x="319.4" y="180.9"/>
<use href="#tb" x="318.9" y="162.0"/>
<use href="#tb" x="285.1" y="164.1"/>
<use href="#tb" x="368.5" y="176.2"/>
<use href="#tb" x="281.2" y="147.0"/>
<use href="#tb" x="328.6" y="141.4"/>
<use href="#tb" x="326.7" y="180.2"/>
<use href="#tb" x="345.0" y="192.9"/>
<use href="#tb" x="291.9" y="149.7"/>
<use href="#tb" x="276.3" y="121.9"/>
<use href="#tb" x="305.2" y="155.6"/>
<use href="#tb" x="341.2" y="200.4"/>
<use href="#tb" x="309.1" y="182.5"/>
<use href="#tb" x="367.1" y="205.1"/>
<use href="#tb" x="317.1" y="141.3"/>
<use href="#tb" x="281.4" y="134.8"/>
<use href="#tb" x="350.8" y="175.3"/>
<use href="#tb" x="275.6" y="159.4"/>
<use href="#tb" x="264.2" y="169.1"/>
<use href="#tb" x="327.6" y="153.3"/>
<use href="#tb" x="366.1" y="180.7"/>
<use href="#tb" x="300.8" y="116.7"/>
<use href="#tb" x="358.7" y="198.7"/>
<use href="#tb" x="350.7" y="205.0"/>
<use href="#tb" x="312.7" y="155.9"/>
<use href="#tb" x="330.0" y="144.5"/>
<use href="#tb" x="321.6" y="194.9"/>
<use href="#tb" x="279.6" y="129.2"/>
<use href="#tb" x="345.4" y="207.2"/>
<use href="#tb" x="337.6" y="148.2"/>
<use href="#tb" x="364.9" y="214.9"/>
<use href="#tb" x="285.7" y="137.8"/>
<use href="#tb" x="302.0" y="148.1"/>
<use href="#tb" x="296.9" y="163.0"/>
<use href="#tb" x="349.2" y="162.4"/>
<use href="#tb" x="345.4" y="161.7"/>
<use href="#tb" x="294.1" y="127.7"/>
<use href="#tb" x="315.5" y="202.2"/>
<use href="#tb" x="302.9" y="132.3"/>
<use href="#tb" x="324.4" y="177.4"/>
<use href="#tb" x="335.1" y="160.0"/>
<use href="#tb" x="371.0" y="161.1"/>
<use href="#tb" x="306.9" y="147.5"/>
<use href="#tb" x="280.1" y="152.3"/>
<use href="#tb" x="322.6" y="162.0"/>
<use href="#tb" x="337.3" y="130.4"/>
<use href="#tb" x="334.1" y="147.2"/>
<use href="#tb" x="355.7" y="172.1"/>
<use href="#tb" x="293.9" y="172.5"/>
<use href="#tb" x="327.9" y="201.6"/>
<use href="#tb" x="313.4" y="168.1"/>
<use href="#tb" x="289.6" y="132.2"/>
<use href="#tb" x="328.6" y="183.2"/>
<use href="#tb" x="301.0" y="140.2"/>
<use href="#tb" x="346.0" y="203.5"/>
<use href="#tb" x="327.0" y="187.0"/>
<use href="#tb" x="371.6" y="157.3"/>
<use href="#tb" x="293.6" y="188.0"/>
<use href="#tb" x="336.7" y="133.9"/>
<use href="#tb" x="381.3" y="163.9"/>
<use href="#tb" x="284.7" y="120.1"/>
<use href="#tb" x="287.4" y="166.0"/>
<use href="#tb" x="319.9" y="198.9"/>
<use href="#tb" x="350.1" y="141.9"/>
<use href="#tb" x="348.9" y="172.1"/>
<use href="#tb" x="298.6" y="152.4"/>
<use href="#tb" x="320.1" y="175.7"/>
<use href="#tb" x="340.3" y="156.2"/>
<use href="#tb" x="308.1" y="189.4"/>
<use href="#tb" x="305.7" y="160.8"/>
<use href="#tb" x="359.6" y="189.8"/>
<use href="#tb" x="303.3" y="145.0"/>
<use href="#tb" x="329.5" y="160.0"/>
<use href="#tb" x="301.9" y="165.8"/>
<use href="#tb" x="301.1" y="191.8"/>
<use href="#tb" x="276.9" y="169.6"/>
<use href="#tb" x="326.9" y="163.7"/>
<use href="#tb" x="326.5" y="216.1"/>
<use href="#tb" x="270.2" y="157.3"/>
<use href="#tb" x="337.0" y="196.8"/>
<use href="#tb" x="348.1" y="152.4"/>
<use href="#tb" x="277.3" y="125.0"/>
<use href="#tb" x="276.5" y="146.4"/>
<use href="#tb" x="343.0" y="161.4"/>
<use href="#tb" x="265.8" y="162.3"/>
<use href="#tb" x="296.1" y="137.7"/>
<use href="#tb" x="325.7" y="193.6"/>
<use href="#tb" x="325.5" y="162.5"/>
<use href="#tb" x="306.4" y="145.5"/>
<use href="#tb" x="311.0" y="123.4"/>
<use href="#tb" x="340.0" y="153.6"/>
<use href="#tb" x="324.5" y="148.3"/>
<use href="#tb" x="382.1" y="194.3"/>
<use href="#tb" x="366.8" y="170.4"/>
<use href="#tb" x="376.4" y="197.3"/>
<use href="#tb" x="316.5" y="207.0"/>
<use href="#tb" x="361.5" y="200.5"/>
<use href="#tb" x="353.1" y="205.0"/>
<use href="#tb" x="383.1" y="168.9"/>
<use href="#tb" x="309.9" y="184.1"/>
<use href="#tb" x="301.4" y="167.4"/>
<use href="#tb" x="290.1" y="161.4"/>
<use href="#tb" x="346.6" y="159.3"/>
<use href="#tb" x="339.7" y="144.5"/>
<use href="#tb" x="290.5" y="125.2"/>
<use href="#tb" x="287.5" y="170.2"/>
<use href="#tb" x="357.4" y="167.9"/>
<use href="#tb" x="376.5" y="184.5"/>
<use href="#tb" x="310.9" y="193.9"/>
<use href="#tb" x="374.4" y="175.2"/>
<use href="#tb" x="305.5" y="115.1"/>
<use href="#tb" x="301.6" y="179.2"/>
<use href="#tb" x="316.7" y="207.2"/>
<use href="#tb" x="353.8" y="213.6"/>
<use href="#tb" x="366.3" y="185.8"/>
<use href="#tb" x="341.3" y="169.5"/>
<use href="#tb" x="306.6" y="156.0"/>
<use href="#tb" x="271.6" y="134.2"/>
<use href="#tb" x="358.7" y="201.5"/>
<use href="#tb" x="282.0" y="146.6"/>
<use href="#tb" x="272.8" y="155.9"/>
<use href="#tb" x="309.4" y="173.9"/>
<use href="#tb" x="276.7" y="156.3"/>
<use href="#tb" x="303.2" y="168.6"/>
<use href="#tb" x="309.3" y="157.8"/>
<use href="#tb" x="361.1" y="199.9"/>
<use href="#tb" x="332.8" y="154.0"/>
<use href="#tb" x="292.9" y="177.4"/>
<use href="#tb" x="322.8" y="143.6"/>
<use href="#tb" x="334.2" y="188.9"/>
<use href="#tb" x="273.1" y="157.4"/>
<use href="#tb" x="313.2" y="154.9"/>
<use href="#tb" x="341.0" y="163.5"/>
<use href="#tb" x="348.0" y="214.2"/>
<use href="#tb" x="347.0" y="141.3"/>
<use href="#tb" x="327.9" y="173.8"/>
<use href="#tb" x="315.0" y="168.2"/>
<use href="#tb" x="331.2" y="212.5"/>
<use href="#tb" x="378.6" y="193.1"/>
<use href="#tb" x="344.8" y="156.6"/>
<use href="#tb" x="340.1" y="152.5"/>
<use href="#tb" x="349.1" y="161.7"/>
<use href="#tb" x="270.9" y="163.6"/>
<use href="#tb" x="345.6" y="146.9"/>
<use href="#tb" x="367.2" y="176.1"/>
<use href="#tb" x="299.4" y="196.4"/>
<use href="#tb" x="306.9" y="174.9"/>
<use href="#tb" x="359.6" y="155.0"/>
<use href="#tb" x="353.7" y="152.8"/>
<use href="#tb" x="318.1" y="153.7"/>
<use href="#tb" x="348.2" y="195.1"/>
<use href="#tb" x="346.5" y="146.2"/>
<use href="#tb" x="363.8" y="191.4"/>
<use href="#tb" x="315.4" y="137.8"/>
<use href="#tb" x="344.2" y="194.9"/>
<use href="#tb" x="287.8" y="182.8"/>
<use href="#tb" x="356.7" y="211.8"/>
<use href="#tb" x="351.3" y="186.5"/>
<use href="#tb" x="362.9" y="199.0"/>
<use href="#tb" x="345.0" y="196.4"/>
<use href="#tb" x="317.4" y="128.4"/>
<use href="#tb" x="294.6" y="177.4"/>
<use href="#tb" x="275.3" y="119.3"/>
<use href="#tb" x="312.6" y="201.6"/>
<use href="#tb" x="312.3" y="202.5"/>
<use href="#tb" x="321.4" y="120.8"/>
<use href="#tb" x="337.8" y="152.7"/>
<use href="#tb" x="328.8" y="192.1"/>
<use href="#tb" x="327.5" y="164.9"/>
<use href="#tb" x="322.2" y="121.1"/>
<use href="#tb" x="370.9" y="195.5"/>
<use href="#tb" x="330.5" y="142.4"/>
<use href="#tb" x="354.7" y="164.6"/>
<use href="#tb" x="370.7" y="176.6"/>
<use href="#tb" x="329.3" y="187.9"/>
<use href="#tb" x="336.8" y="206.0"/>
<use href="#tb" x="355.4" y="161.5"/>
<use href="#tb" x="276.1" y="152.5"/>
<use href="#tb" x="279.9" y="149.3"/>
<use href="#tb" x="327.0" y="172.8"/>
<use href="#tb" x="337.8" y="197.5"/>
<use href="#tb" x="334.3" y="208.7"/>
<use href="#tb" x="329.2" y="172.2"/>
<use href="#tb" x="356.0" y="175.5"/>
<use href="#tb" x="281.7" y="170.0"/>
<use href="#tb" x="366.4" y="168.7"/>
<use href="#tb" x="280.6" y="162.4"/>
<use href="#tb" x="329.9" y="185.2"/>
<use href="#tb" x="277.3" y="147.0"/>
<use href="#tb" x="284.2" y="166.8"/>
<use href="#tb" x="319.0" y="127.4"/>
<use href="#tb" x="352.3" y="138.7"/>
<use href="#tb" x="279.5" y="162.1"/>
<use href="#tb" x="299.5" y="154.7"/>
<use href="#tb" x="319.4" y="195.3"/>
<use href="#tb" x="275.9" y="140.3"/>
<use href="#tb" x="318.8" y="127.4"/>
<use href="#tb" x="299.2" y="156.1"/>
<use href="#tb" x="280.1" y="127.0"/>
<use href="#tb" x="304.7" y="146.0"/>
<use href="#tb" x="325.0" y="184.9"/>
<use href="#tb" x="289.2" y="121.8"/>
<use href="#tb" x="288.9" y="163.5"/>
<use href="#tb" x="368.6" y="207.7"/>
<use href="#tb" x="372.3" y="185.9"/>
<use href="#tb" x="273.7" y="167.6"/>
<use href="#tb" x="309.2" y="154.3"/>
<use href="#tb" x="319.5" y="209.9"/>
<use href="#tb" x="289.2" y="125.2"/>
<use href="#tb" x="291.4" y="169.6"/>
<use href="#tb" x="272.8" y="153.1"/>
<use href="#tb" x="342.4" y="154.4"/>
<use href="#tb" x="309.5" y="158.3"/>
<use href="#tb" x="369.9" y="164.6"/>
<use href="#tb" x="364.5" y="180.8"/>
<use href="#tb" x="263.6" y="167.3"/>
<use href="#tb" x="288.6" y="188.3"/>
<use href="#tb" x="258.7" y="164.3"/>
<use href="#tb" x="316.9" y="147.9"/>
<use href="#tb" x="356.4" y="190.4"/>
<use href="#tb" x="339.7" y="193.4"/>
<use href="#tb" x="306.8" y="184.5"/>
<use href="#tb" x="320.1" y="198.7"/>
<use href="#tb" x="279.8" y="176.3"/>
<use href="#tb" x="305.5" y="161.7"/>
<use href="#tb" x="366.5" y="217.7"/>
<use href="#tb" x="310.0" y="183.1"/>
<use href="#tb" x="326.6" y="132.1"/>
<use href="#tb" x="273.5" y="174.1"/>
<use href="#tb" x="323.5" y="143.1"/>
<use href="#tb" x="315.0" y="173.2"/>
<use href="#tb" x="323.4" y="197.6"/>
<use href="#tb" x="304.9" y="124.3"/>
<use href="#tb" x="335.6" y="151.1"/>
<use href="#tb" x="276.8" y="132.1"/>
<use href="#tb" x="318.2" y="175.6"/>
<use href="#tb" x="374.4" y="152.0"/>
<use href="#tb" x="320.6" y="204.3"/>
<use href="#tb" x="342.7" y="138.8"/>
<use href="#tb" x="337.7" y="203.3"/>
<use href="#tb" x="326.0" y="126.0"/>
<use href="#tb" x="305.5" y="168.5"/>
<use href="#tb" x="332.2" y="182.4"/>
<use href="#tb" x="292.1" y="155.2"/>
<use href="#tb" x="344.3" y="192.8"/>
<use href="#tb" x="360.3" y="168.8"/>
<use href="#tb" x="347.1" y="202.9"/>
<use href="#tb" x="372.5" y="168.7"/>
<use href="#tb" x="312.6" y="138.8"/>
<use href="#tb" x="308.6" y="172.2"/>
<use href="#tb" x="280.2" y="173.0"/>
<use href="#tb" x="321.4" y="148.5"/>
<use href="#tb" x="295.3" y="131.6"/>
<use href="#tb" x="354.2" y="224.6"/>
<use href="#tb" x="365.7" y="168.3"/>
<use href="#tb" x="364.3" y="220.6"/>
<use href="#tb" x="319.8" y="175.4"/>
<use href="#tb" x="373.9" y="161.7"/>
<use href="#tb" x="328.4" y="180.4"/>
<use href="#tb" x="353.7" y="148.8"/>
<use href="#tb" x="267.6" y="151.4"/>
<use href="#tb" x="321.0" y="188.7"/>
<use href="#tb" x="313.7" y="163.1"/>
<use href="#tb" x="326.1" y="141.0"/>
<use href="#tb" x="363.0" y="161.2"/>
<use href="#tb" x="327.8" y="141.1"/>
<use href="#tb" x="373.2" y="154.2"/>
<use href="#tb" x="280.4" y="150.8"/>
<use href="#tb" x="278.1" y="139.5"/>
<use href="#tb" x="297.7" y="138.2"/>
<use href="#tb" x="293.2" y="195.2"/>
<use href="#tb" x="307.1" y="166.2"/>
<use href="#tb" x="294.7" y="148.5"/>
<use href="#tb" x="270.1" y="171.9"/>
<use href="#tb" x="299.7" y="175.9"/>
<use href="#tb" x="322.0" y="170.2"/>
<use href="#tb" x="283.0" y="115.4"/>
<use href="#tb" x="340.6" y="164.4"/>
<use href="#tb" x="293.2" y="179.1"/>
<use href="#tb" x="336.1" y="136.7"/>
<use href="#tb" x="353.2" y="179.4"/>
<use href="#tb" x="303.7" y="156.0"/>
<use href="#tb" x="374.2" y="186.4"/>
<use href="#tb" x="292.9" y="139.5"/>
<use href="#tb" x="318.8" y="149.7"/>
<use href="#tb" x="328.2" y="207.5"/>
<use href="#tb" x="324.7" y="178.8"/>
<use href="#tb" x="318.1" y="208.9"/>
<use href="#tb" x="344.6" y="141.6"/>
<use href="#tb" x="367.8" y="175.4"/>
<use href="#tb" x="271.1" y="134.0"/>
<use href="#tb" x="299.3" y="141.2"/>
<use href="#tb" x="354.7" y="170.7"/>
<use href="#tb" x="360.5" y="196.4"/>
<use href="#tb" x="364.3" y="157.7"/>
<use href="#tb" x="383.0" y="181.7"/>
<use href="#tb" x="300.8" y="132.5"/>
<use href="#tb" x="342.0" y="135.7"/>
<use href="#tb" x="308.4" y="170.8"/>
<use href="#tb" x="337.3" y="143.9"/>
<use href="#tb" x="331.8" y="164.0"/>
<use href="#tb" x="348.2" y="208.4"/>
<use href="#tb" x="336.3" y="153.7"/>
<use href="#tb" x="375.5" y="187.2"/>
<use href="#tb" x="320.2" y="178.4"/>
<use href="#tb" x="295.8" y="139.3"/>
<use href="#tb" x="352.1" y="167.3"/>
<use href="#tb" x="283.6" y="128.5"/>
<use href="#tb" x="321.7" y="156.2"/>
<use href="#tb" x="343.9" y="212.9"/>
<use href="#tb" x="345.5" y="196.3"/>
<use href="#tb" x="364.7" y="161.9"/>
<use href="#tb" x="355.1" y="153.1"/>
<use href="#tb" x="330.1" y="167.5"/>
<use href="#tb" x="279.1" y="129.5"/>
<use href="#tb" x="374.7" y="183.3"/>
<use href="#tb" x="388.4" y="174.0"/>
<use href="#tb" x="325.1" y="172.7"/>
<use href="#tb" x="298.0" y="190.1"/>
<use href="#tb" x="286.6" y="180.5"/>
<use href="#tb" x="307.8" y="132.7"/>
<use href="#tb" x="307.5" y="148.9"/>
<use href="#tb" x="280.1" y="131.7"/>
<use href="#tb" x="339.7" y="204.9"/>
<use href="#tb" x="284.9" y="159.7"/>
<use href="#tb" x="341.9" y="212.4"/>
<use href="#tb" x="302.8" y="151.2"/>
<use href="#tb" x="378.0" y="199.9"/>
<use href="#tb" x="292.8" y="159.4"/>
<use href="#tb" x="313.4" y="167.5"/>
<use href="#tb" x="327.0" y="176.0"/>
<use href="#tb" x="306.4" y="179.1"/>
<use href="#tb" x="319.8" y="158.2"/>
<use href="#tb" x="340.8" y="147.9"/>
<use href="#tb" x="324.8" y="153.7"/>
<use href="#tb" x="344.3" y="202.8"/>
<use href="#tb" x="291.1" y="156.5"/>
<use href="#tb" x="265.6" y="163.8"/>
<use href="#tb" x="285.3" y="179.4"/>
<use href="#tb" x="295.8" y="125.6"/>
<use href="#tb" x="375.4" y="154.9"/>
<use href="#tb" x="322.8" y="152.8"/>
<use href="#tb" x="363.8" y="153.5"/>
<use href="#tb" x="357.2" y="207.5"/>
<use href="#tb" x="327.5" y="205.0"/>
<use href="#tb" x="328.0" y="169.4"/>
<use href="#tb" x="356.8" y="212.7"/>
<use href="#tb" x="355.0" y="214.6"/>
<use href="#tb" x="337.6" y="166.1"/>
<use href="#tb" x="313.4" y="154.0"/>
<use href="#tb" x="371.6" y="195.7"/>
<use href="#tb" x="292.2" y="163.5"/>
<use href="#tb" x="302.3" y="197.7"/>
<use href="#tb" x="301.5" y="115.8"/>
<use href="#tb" x="369.9" y="195.4"/>
<use href="#tb" x="371.7" y="159.3"/>
<use href="#tb" x="330.0" y="175.2"/>
<use href="#tb" x="288.4" y="158.2"/>
<use href="#tb" x="284.7" y="166.5"/>
<use href="#tb" x="328.3" y="182.1"/>
<use href="#tb" x="332.9" y="159.5"/>
<use href="#tb" x="349.7" y="200.1"/>
<use href="#tb" x="334.9" y="127.8"/>
<use href="#tb" x="331.4" y="193.3"/>
<use href="#tb" x="324.1" y="175.5"/>
<use href="#tb" x="303.4" y="155.2"/>
<use href="#tb" x="344.7" y="196.0"/>
<use href="#tb" x="265.1" y="171.1"/>
<use href="#tb" x="323.4" y="200.9"/>
<use href="#tb" x="262.1" y="155.4"/>
<use href="#tb" x="278.8" y="168.7"/>
<use href="#tb" x="308.8" y="188.2"/>
<use href="#tb" x="329.8" y="172.0"/>
<use href="#tb" x="331.6" y="204.5"/>
<use href="#tb" x="344.6" y="174.2"/>
<use href="#tb" x="331.3" y="172.1"/>
<use href="#tb" x="345.2" y="181.3"/>
<use href="#tb" x="317.1" y="118.3"/>
<use href="#tb" x="375.0" y="153.5"/>
<use href="#tb" x="311.4" y="176.6"/>
<use href="#tb" x="206.6" y="57.2"/>
<use href="#tb" x="210.2" y="126.1"/>
<use href="#tb" x="259.0" y="107.0"/>
<use href="#tb" x="263.0" y="112.0"/>
<use href="#tb" x="330.0" y="97.0"/>
<use href="#tb" x="321.0" y="112.0"/>
<use href="#tb" x="300.0" y="88.0"/>
<use href="#tb" x="128.0" y="177.0"/>
<use href="#tb" x="133.0" y="178.0"/>
<use href="#tb" x="125.0" y="184.0"/>
<use href="#tb" x="130.0" y="186.0"/>
<use href="#tb" x="157.0" y="201.0"/>
<use href="#tb" x="165.0" y="208.0"/>
<use href="#tb" x="176.0" y="212.0"/>
<use href="#tb" x="170.0" y="217.0"/>
<use href="#tb" x="150.0" y="198.0"/>
<use href="#tb" x="144.0" y="196.0"/>
<use href="#tb" x="176.0" y="230.0"/>
<use href="#tb" x="139.0" y="251.0"/>
<use href="#tb" x="145.0" y="252.0"/>
<use href="#tb" x="106.0" y="204.0"/>
<use href="#tb" x="106.0" y="214.0"/>
<use href="#tb" x="377.0" y="141.0"/>
<use href="#tb" x="352.7" y="125.0"/>
<use href="#tb" x="256.0" y="165.0"/>
<use href="#tb" x="402.7" y="184.0"/>
<use href="#tb" x="246.0" y="170.0"/>
<use href="#tb" x="252.0" y="181.0"/>
<use href="#tb" x="288.0" y="201.0"/>
<use href="#tb" x="375.3" y="83.9"/>
<use href="#tb" x="390.3" y="78.3"/>
<use href="#tb" x="397.6" y="99.4"/>
<use href="#tb" x="389.1" y="105.0"/>
<use href="#tb" x="423.4" y="143.9"/>
<use href="#tb" x="454.0" y="145.6"/>
<use href="#tb" x="358.0" y="230.0"/>
<use href="#tb" x="344.0" y="226.0"/>
<use href="#tb" x="368.0" y="223.0"/>
<use href="#tb" x="391.0" y="188.0"/>
</g>
<path d="M372.33 177.25L372.28 174.73L372.14 172.21L371.90 169.70L371.57 167.19L371.15 164.70L370.62 162.23L370.01 159.77L369.31 157.33L368.51 154.92L367.62 152.54L366.65 150.18L365.58 147.86L364.43 145.57L363.19 143.33L361.87 141.12L360.47 138.96L358.98 136.84L357.42 134.78L355.78 132.76L354.06 130.80L352.28 128.90L350.42 127.06L348.49 125.27L346.50 123.55L344.44 121.90L342.32 120.31L340.15 118.79L337.91 117.35L335.63 115.97L333.29 114.67L330.91 113.45L328.48 112.30L326.01 111.24L323.50 110.25L320.96 109.35L318.38 108.53L315.77 107.79L313.14 107.14L310.48 106.57L307.81 106.09L305.12 105.69L302.41 105.39L299.70 105.17L296.97 105.04L294.25 104.99L291.53 105.04L288.80 105.17L286.09 105.39L283.38 105.69L280.69 106.09L278.02 106.57L275.36 107.14L272.73 107.79L270.12 108.53L267.54 109.35L265.00 110.25L262.49 111.24L260.02 112.30L257.59 113.45L255.21 114.67L252.87 115.97L250.59 117.35L248.35 118.79L246.18 120.31L244.06 121.90L242.00 123.55L240.01 125.27L238.08 127.06L236.22 128.90L234.44 130.80L232.72 132.76L231.08 134.78L229.52 136.84L228.03 138.96L226.63 141.12L225.31 143.33L224.07 145.57L222.92 147.86L221.85 150.18L220.88 152.54L219.99 154.92L219.19 157.33L218.49 159.77L217.88 162.23L217.35 164.70L216.93 167.19L216.60 169.70L216.36 172.21L216.22 174.73L216.17 177.25L216.22 179.77L216.36 182.29L216.60 184.80L216.93 187.31L217.35 189.80L217.88 192.27L218.49 194.73L219.19 197.17L219.99 199.58L220.88 201.96L221.85 204.32L222.92 206.64L224.07 208.93L225.31 211.17L226.63 213.38L228.03 215.54L229.52 217.66L231.08 219.72L232.72 221.74L234.44 223.70L236.22 225.60L238.08 227.44L240.01 229.23L242.00 230.95L244.06 232.60L246.18 234.19L248.35 235.71L250.59 237.15L252.87 238.53L255.21 239.83L257.59 241.05L260.02 242.20L262.49 243.26L265.00 244.25L267.54 245.15L270.12 245.97L272.73 246.71L275.36 247.36L278.02 247.93L280.69 248.41L283.38 248.81L286.09 249.11L288.80 249.33L291.53 249.46L294.25 249.51L296.97 249.46L299.70 249.33L302.41 249.11L305.12 248.81L307.81 248.41L310.48 247.93L313.14 247.36L315.77 246.71L318.38 245.97L320.96 245.15L323.50 244.25L326.01 243.26L328.48 242.20L330.91 241.05L333.29 239.83L335.63 238.53L337.91 237.15L340.15 235.71L342.32 234.19L344.44 232.60L346.50 230.95L348.49 229.23L350.42 227.44L352.28 225.60L354.06 223.70L355.78 221.74L357.42 219.72L358.98 217.66L360.47 215.54L361.87 213.38L363.19 211.17L364.43 208.93L365.58 206.64L366.65 204.32L367.62 201.96L368.51 199.58L369.31 197.17L370.01 194.73L370.62 192.27L371.15 189.80L371.57 187.31L371.90 184.80L372.14 182.29L372.28 179.77L372.33 177.25" fill="none" stroke="#0000ff" stroke-width="2.5" stroke-dasharray="10.2 9.55"/>
<path d="M450.41 177.25L450.32 172.21L450.03 167.17L449.56 162.14L448.89 157.14L448.04 152.15L447.00 147.20L445.77 142.29L444.36 137.42L442.77 132.59L440.99 127.82L439.04 123.11L436.91 118.47L434.61 113.90L432.13 109.40L429.49 104.99L426.68 100.67L423.71 96.44L420.59 92.31L417.31 88.28L413.88 84.36L410.30 80.55L406.58 76.86L402.73 73.29L398.74 69.85L394.63 66.54L390.39 63.37L386.04 60.33L381.57 57.44L377.00 54.69L372.33 52.09L367.56 49.65L362.71 47.36L357.77 45.23L352.75 43.26L347.66 41.45L342.51 39.81L337.29 38.33L332.03 37.03L326.72 35.89L321.37 34.93L315.98 34.14L310.57 33.53L305.14 33.09L299.70 32.82L294.25 32.73L288.80 32.82L283.36 33.09L277.93 33.53L272.52 34.14L267.13 34.93L261.78 35.89L256.47 37.03L251.21 38.33L245.99 39.81L240.84 41.45L235.75 43.26L230.73 45.23L225.79 47.36L220.94 49.65L216.17 52.09L211.50 54.69L206.93 57.44L202.46 60.33L198.11 63.37L193.87 66.54L189.76 69.85L185.77 73.29L181.92 76.86L178.20 80.55L174.62 84.36L171.19 88.28L167.91 92.31L164.79 96.44L161.82 100.67L159.01 104.99L156.37 109.40L153.89 113.90L151.59 118.47L149.46 123.11L147.51 127.82L145.73 132.59L144.14 137.42L142.73 142.29L141.50 147.20L140.46 152.15L139.61 157.14L138.94 162.14L138.47 167.17L138.18 172.21L138.09 177.25L138.18 182.29L138.47 187.33L138.94 192.36L139.61 197.36L140.46 202.35L141.50 207.30L142.73 212.21L144.14 217.08L145.73 221.91L147.51 226.68L149.46 231.39L151.59 236.03L153.89 240.60L156.37 245.10L159.01 249.51L161.82 253.83L164.79 258.06L167.91 262.19L171.19 266.22L174.62 270.14L178.20 273.95L181.92 277.64L185.77 281.21L189.76 284.65L193.87 287.96L198.11 291.13L202.46 294.17L206.93 297.06L211.50 299.81L216.17 302.41L220.94 304.85L225.79 307.14L230.73 309.27L235.75 311.24L240.84 313.05L245.99 314.69L251.21 316.17L256.47 317.47L261.78 318.61L267.13 319.57L272.52 320.36L277.93 320.97L283.36 321.41L288.80 321.68L294.25 321.77L299.70 321.68L305.14 321.41L310.57 320.97L315.98 320.36L321.37 319.57L326.72 318.61L332.03 317.47L337.29 316.17L342.51 314.69L347.66 313.05L352.75 311.24L357.77 309.27L362.71 307.14L367.56 304.85L372.33 302.41L377.00 299.81L381.57 297.06L386.04 294.17L390.39 291.13L394.63 287.96L398.74 284.65L402.73 281.21L406.58 277.64L410.30 273.95L413.88 270.14L417.31 266.22L420.59 262.19L423.71 258.06L426.68 253.83L429.49 249.51L432.13 245.10L434.61 240.60L436.91 236.03L439.04 231.39L440.99 226.68L442.77 221.91L444.36 217.08L445.77 212.21L447.00 207.30L448.04 202.35L448.89 197.36L449.56 192.36L450.03 187.33L450.32 182.29L450.41 177.25" fill="none" stroke="#000" stroke-width="2.5" stroke-dasharray="10.2 9.55"/>
<path d="M54.00 344.0v-4.5M54.00 10.5v4.5M114.06 344.0v-4.5M114.06 10.5v4.5M174.12 344.0v-4.5M174.12 10.5v4.5M234.19 344.0v-4.5M234.19 10.5v4.5M294.25 344.0v-4.5M294.25 10.5v4.5M354.31 344.0v-4.5M354.31 10.5v4.5M414.38 344.0v-4.5M414.38 10.5v4.5M474.44 344.0v-4.5M474.44 10.5v4.5M534.50 344.0v-4.5M534.50 10.5v4.5M54.0 344.00h4.5M534.5 344.00h-4.5M54.0 288.42h4.5M534.5 288.42h-4.5M54.0 232.83h4.5M534.5 232.83h-4.5M54.0 177.25h4.5M534.5 177.25h-4.5M54.0 121.67h4.5M534.5 121.67h-4.5M54.0 66.08h4.5M534.5 66.08h-4.5M54.0 10.50h4.5M534.5 10.50h-4.5" stroke="#333" stroke-width="1" fill="none"/>
<rect x="54.0" y="10.5" width="480.5" height="333.5" fill="none" stroke="#3a3a3a" stroke-width="1.1"/>
<text x="54.0" y="367.0" font-size="17" text-anchor="middle">−4</text>
<text x="114.1" y="367.0" font-size="17" text-anchor="middle">−3</text>
<text x="174.1" y="367.0" font-size="17" text-anchor="middle">−2</text>
<text x="234.2" y="367.0" font-size="17" text-anchor="middle">−1</text>
<text x="294.2" y="367.0" font-size="17" text-anchor="middle">0</text>
<text x="354.3" y="367.0" font-size="17" text-anchor="middle">1</text>
<text x="414.4" y="367.0" font-size="17" text-anchor="middle">2</text>
<text x="474.4" y="367.0" font-size="17" text-anchor="middle">3</text>
<text x="534.5" y="367.0" font-size="17" text-anchor="middle">4</text>
<text x="46.8" y="350.2" font-size="17" text-anchor="end">−3</text>
<text x="46.8" y="294.6" font-size="17" text-anchor="end">−2</text>
<text x="46.8" y="239.0" font-size="17" text-anchor="end">−1</text>
<text x="46.8" y="183.4" font-size="17" text-anchor="end">0</text>
<text x="46.8" y="127.9" font-size="17" text-anchor="end">1</text>
<text x="46.8" y="72.3" font-size="17" text-anchor="end">2</text>
<text x="46.8" y="16.7" font-size="17" text-anchor="end">3</text>
<text x="294.2" y="388.8" font-size="17" text-anchor="middle">East (m)</text>
<text transform="translate(21.0 177.2) rotate(-90)" font-size="17" text-anchor="middle">North (m)</text>
<text x="236.5" y="233" class="b" font-size="16.8">DRMS = 1.3</text>
<text x="246" y="291" class="b" font-size="16.8">2DRMS = 2.6</text>
<path d="M134.58 405.8V738.0M214.67 405.8V738.0M294.75 405.8V738.0M374.83 405.8V738.0M454.92 405.8V738.0M54.5 671.56H535.0M54.5 605.12H535.0M54.5 538.68H535.0M54.5 472.24H535.0" stroke="#d6d6d6" stroke-width="0.75" fill="none"/>
<g>
<use href="#tg" x="239.6" y="599.8"/>
<use href="#tg" x="297.2" y="622.2"/>
<use href="#tg" x="288.8" y="599.3"/>
<use href="#tg" x="320.4" y="637.3"/>
<use href="#tg" x="280.6" y="644.5"/>
<use href="#tg" x="280.3" y="542.9"/>
<use href="#tg" x="316.6" y="638.5"/>
<use href="#tg" x="284.6" y="601.3"/>
<use href="#tg" x="265.6" y="632.2"/>
<use href="#tg" x="339.4" y="603.9"/>
<use href="#tg" x="223.5" y="611.5"/>
<use href="#tg" x="268.7" y="585.9"/>
<use href="#tg" x="317.8" y="609.7"/>
<use href="#tg" x="339.4" y="601.1"/>
<use href="#tg" x="268.6" y="594.8"/>
<use href="#tg" x="333.3" y="605.9"/>
<use href="#tg" x="252.4" y="617.4"/>
<use href="#tg" x="286.2" y="539.1"/>
<use href="#tg" x="219.7" y="613.4"/>
<use href="#tg" x="283.0" y="578.6"/>
<use href="#tg" x="206.9" y="599.0"/>
<use href="#tg" x="279.1" y="588.6"/>
<use href="#tg" x="248.9" y="627.7"/>
<use href="#tg" x="287.7" y="548.5"/>
<use href="#tg" x="303.0" y="613.7"/>
<use href="#tg" x="265.9" y="565.1"/>
<use href="#tg" x="249.1" y="554.8"/>
<use href="#tg" x="262.1" y="613.0"/>
<use href="#tg" x="335.1" y="599.6"/>
<use href="#tg" x="329.9" y="612.9"/>
<use href="#tg" x="299.4" y="596.3"/>
<use href="#tg" x="221.3" y="581.3"/>
<use href="#tg" x="318.1" y="598.3"/>
<use href="#tg" x="310.6" y="646.9"/>
<use href="#tg" x="347.4" y="601.2"/>
<use href="#tg" x="235.4" y="576.9"/>
<use href="#tg" x="271.5" y="546.3"/>
<use href="#tg" x="288.9" y="579.7"/>
<use href="#tg" x="273.1" y="558.4"/>
<use href="#tg" x="271.1" y="612.4"/>
<use href="#tg" x="337.3" y="593.5"/>
<use href="#tg" x="322.4" y="609.0"/>
<use href="#tg" x="308.3" y="584.5"/>
<use href="#tg" x="302.3" y="591.0"/>
<use href="#tg" x="272.7" y="574.2"/>
<use href="#tg" x="267.3" y="578.0"/>
<use href="#tg" x="301.6" y="591.7"/>
<use href="#tg" x="241.6" y="597.0"/>
<use href="#tg" x="216.0" y="594.0"/>
<use href="#tg" x="292.2" y="581.6"/>
<use href="#tg" x="296.6" y="591.6"/>
<use href="#tg" x="337.1" y="613.5"/>
<use href="#tg" x="327.5" y="622.0"/>
<use href="#tg" x="330.9" y="580.4"/>
<use href="#tg" x="339.7" y="635.7"/>
<use href="#tg" x="261.4" y="599.5"/>
<use href="#tg" x="253.0" y="573.7"/>
<use href="#tg" x="309.7" y="584.6"/>
<use href="#tg" x="305.6" y="627.4"/>
<use href="#tg" x="255.0" y="627.3"/>
<use href="#tg" x="321.0" y="620.0"/>
<use href="#tg" x="317.7" y="632.1"/>
<use href="#tg" x="269.8" y="543.5"/>
<use href="#tg" x="244.0" y="545.9"/>
<use href="#tg" x="296.8" y="586.3"/>
<use href="#tg" x="298.2" y="648.6"/>
<use href="#tg" x="231.5" y="558.1"/>
<use href="#tg" x="319.2" y="571.1"/>
<use href="#tg" x="272.8" y="620.6"/>
<use href="#tg" x="270.1" y="640.5"/>
<use href="#tg" x="253.1" y="637.1"/>
<use href="#tg" x="274.0" y="569.1"/>
<use href="#tg" x="245.6" y="616.1"/>
<use href="#tg" x="223.0" y="589.7"/>
<use href="#tg" x="298.6" y="561.8"/>
<use href="#tg" x="320.6" y="601.7"/>
<use href="#tg" x="320.2" y="621.2"/>
<use href="#tg" x="299.6" y="595.2"/>
<use href="#tg" x="210.5" y="576.3"/>
<use href="#tg" x="293.9" y="640.0"/>
<use href="#tg" x="240.3" y="621.7"/>
<use href="#tg" x="314.2" y="570.0"/>
<use href="#tg" x="249.5" y="570.1"/>
<use href="#tg" x="235.5" y="570.6"/>
<use href="#tg" x="208.3" y="563.3"/>
<use href="#tg" x="252.8" y="629.3"/>
<use href="#tg" x="297.3" y="646.4"/>
<use href="#tg" x="253.9" y="565.2"/>
<use href="#tg" x="331.5" y="595.5"/>
<use href="#tg" x="275.9" y="587.4"/>
<use href="#tg" x="334.9" y="588.3"/>
<use href="#tg" x="229.0" y="622.2"/>
<use href="#tg" x="250.8" y="572.1"/>
<use href="#tg" x="223.6" y="610.3"/>
<use href="#tg" x="293.8" y="598.0"/>
<use href="#tg" x="287.8" y="628.8"/>
<use href="#tg" x="238.9" y="542.6"/>
<use href="#tg" x="223.0" y="607.9"/>
<use href="#tg" x="343.9" y="619.2"/>
<use href="#tg" x="309.4" y="595.3"/>
<use href="#tg" x="285.2" y="551.1"/>
<use href="#tg" x="274.2" y="629.7"/>
<use href="#tg" x="314.2" y="579.9"/>
<use href="#tg" x="291.1" y="630.2"/>
<use href="#tg" x="284.6" y="597.7"/>
<use href="#tg" x="311.2" y="606.0"/>
<use href="#tg" x="279.6" y="641.1"/>
<use href="#tg" x="258.0" y="634.0"/>
<use href="#tg" x="254.3" y="593.2"/>
<use href="#tg" x="227.5" y="584.5"/>
<use href="#tg" x="263.5" y="579.6"/>
<use href="#tg" x="314.0" y="566.6"/>
<use href="#tg" x="314.7" y="606.6"/>
<use href="#tg" x="249.6" y="625.0"/>
<use href="#tg" x="323.4" y="581.5"/>
<use href="#tg" x="215.3" y="610.8"/>
<use href="#tg" x="339.4" y="590.2"/>
<use href="#tg" x="270.6" y="576.3"/>
<use href="#tg" x="260.9" y="552.5"/>
<use href="#tg" x="282.8" y="619.2"/>
<use href="#tg" x="283.5" y="590.4"/>
<use href="#tg" x="304.6" y="633.9"/>
<use href="#tg" x="298.8" y="618.7"/>
<use href="#tg" x="219.7" y="617.8"/>
<use href="#tg" x="300.3" y="547.4"/>
<use href="#tg" x="330.0" y="599.3"/>
<use href="#tg" x="315.7" y="581.5"/>
<use href="#tg" x="242.8" y="567.2"/>
<use href="#tg" x="333.2" y="588.7"/>
<use href="#tg" x="282.0" y="622.2"/>
<use href="#tg" x="283.1" y="581.5"/>
<use href="#tg" x="342.4" y="588.4"/>
<use href="#tg" x="277.5" y="609.6"/>
<use href="#tg" x="265.2" y="580.0"/>
<use href="#tg" x="214.6" y="578.3"/>
<use href="#tg" x="273.5" y="541.2"/>
<use href="#tg" x="309.9" y="584.4"/>
<use href="#tg" x="234.1" y="564.8"/>
<use href="#tg" x="295.4" y="587.9"/>
<use href="#tg" x="272.4" y="585.1"/>
<use href="#tg" x="287.4" y="597.7"/>
<use href="#tg" x="207.3" y="579.2"/>
<use href="#tg" x="278.1" y="619.5"/>
<use href="#tg" x="247.2" y="582.8"/>
<use href="#tg" x="261.5" y="616.3"/>
<use href="#tg" x="274.0" y="589.0"/>
<use href="#tg" x="307.7" y="603.2"/>
<use href="#tg" x="325.1" y="642.9"/>
<use href="#tg" x="264.7" y="630.3"/>
<use href="#tg" x="260.1" y="567.3"/>
<use href="#tg" x="286.0" y="594.0"/>
<use href="#tg" x="309.5" y="573.2"/>
<use href="#tg" x="221.8" y="584.7"/>
<use href="#tg" x="310.9" y="639.7"/>
<use href="#tg" x="334.8" y="596.8"/>
<use href="#tg" x="282.2" y="565.4"/>
<use href="#tg" x="255.5" y="553.6"/>
<use href="#tg" x="261.3" y="592.1"/>
<use href="#tg" x="223.5" y="607.2"/>
<use href="#tg" x="322.5" y="630.8"/>
<use href="#tg" x="286.0" y="613.4"/>
<use href="#tg" x="279.3" y="600.7"/>
<use href="#tg" x="266.9" y="554.5"/>
<use href="#tg" x="287.5" y="591.3"/>
<use href="#tg" x="318.9" y="569.2"/>
<use href="#tg" x="253.3" y="610.5"/>
<use href="#tg" x="331.6" y="615.7"/>
<use href="#tg" x="247.2" y="556.2"/>
<use href="#tg" x="245.9" y="634.9"/>
<use href="#tg" x="289.4" y="565.1"/>
<use href="#tg" x="306.1" y="612.8"/>
<use href="#tg" x="255.1" y="572.3"/>
<use href="#tg" x="338.6" y="596.1"/>
<use href="#tg" x="326.1" y="621.4"/>
<use href="#tg" x="288.7" y="648.0"/>
<use href="#tg" x="285.8" y="620.6"/>
<use href="#tg" x="215.0" y="608.3"/>
<use href="#tg" x="225.9" y="552.8"/>
<use href="#tg" x="293.3" y="606.2"/>
<use href="#tg" x="285.7" y="620.7"/>
<use href="#tg" x="221.9" y="609.5"/>
<use href="#tg" x="303.6" y="581.1"/>
<use href="#tg" x="285.8" y="584.4"/>
<use href="#tg" x="237.1" y="541.0"/>
<use href="#tg" x="262.2" y="536.4"/>
<use href="#tg" x="275.2" y="607.4"/>
<use href="#tg" x="264.5" y="566.9"/>
<use href="#tg" x="245.6" y="617.3"/>
<use href="#tg" x="208.6" y="561.4"/>
<use href="#tg" x="216.4" y="609.4"/>
<use href="#tg" x="314.5" y="560.1"/>
<use href="#tg" x="257.7" y="569.9"/>
<use href="#tg" x="300.9" y="578.9"/>
<use href="#tg" x="316.9" y="569.5"/>
<use href="#tg" x="217.5" y="617.0"/>
<use href="#tg" x="327.5" y="649.7"/>
<use href="#tg" x="204.8" y="585.5"/>
<use href="#tg" x="207.7" y="597.7"/>
<use href="#tg" x="277.4" y="583.0"/>
<use href="#tg" x="315.6" y="607.5"/>
<use href="#tg" x="257.8" y="601.4"/>
<use href="#tg" x="281.9" y="594.6"/>
<use href="#tg" x="322.4" y="596.2"/>
<use href="#tg" x="228.9" y="602.7"/>
<use href="#tg" x="343.4" y="620.8"/>
<use href="#tg" x="277.2" y="557.1"/>
<use href="#tg" x="285.9" y="606.4"/>
<use href="#tg" x="338.0" y="593.6"/>
<use href="#tg" x="283.3" y="553.4"/>
<use href="#tg" x="289.0" y="621.3"/>
<use href="#tg" x="226.9" y="615.5"/>
<use href="#tg" x="278.8" y="618.6"/>
<use href="#tg" x="288.5" y="584.5"/>
<use href="#tg" x="283.1" y="584.7"/>
<use href="#tg" x="245.8" y="558.1"/>
<use href="#tg" x="303.2" y="596.9"/>
<use href="#tg" x="237.2" y="590.3"/>
<use href="#tg" x="295.6" y="556.9"/>
<use href="#tg" x="341.9" y="600.4"/>
<use href="#tg" x="320.1" y="574.3"/>
<use href="#tg" x="300.2" y="552.1"/>
<use href="#tg" x="253.1" y="561.4"/>
<use href="#tg" x="331.3" y="629.1"/>
<use href="#tg" x="247.4" y="636.3"/>
<use href="#tg" x="306.2" y="565.7"/>
<use href="#tg" x="319.1" y="606.7"/>
<use href="#tg" x="355.4" y="629.4"/>
<use href="#tg" x="315.2" y="572.0"/>
<use href="#tg" x="215.0" y="576.2"/>
<use href="#tg" x="201.0" y="609.8"/>
<use href="#tg" x="271.9" y="544.2"/>
<use href="#tg" x="290.8" y="539.8"/>
<use href="#tg" x="258.8" y="567.7"/>
<use href="#tg" x="250.3" y="621.8"/>
<use href="#tg" x="291.0" y="613.7"/>
<use href="#tg" x="294.0" y="626.3"/>
<use href="#tg" x="287.9" y="605.4"/>
<use href="#tg" x="307.7" y="581.3"/>
<use href="#tg" x="205.3" y="592.9"/>
<use href="#tg" x="243.4" y="603.8"/>
<use href="#tg" x="278.6" y="561.4"/>
<use href="#tg" x="289.2" y="635.5"/>
<use href="#tg" x="329.7" y="567.1"/>
<use href="#tg" x="222.4" y="608.6"/>
<use href="#tg" x="232.9" y="586.3"/>
<use href="#tg" x="249.4" y="615.7"/>
<use href="#tg" x="279.5" y="578.6"/>
<use href="#tg" x="294.2" y="608.2"/>
<use href="#tg" x="288.5" y="549.6"/>
<use href="#tg" x="272.1" y="636.4"/>
<use href="#tg" x="282.7" y="605.7"/>
<use href="#tg" x="281.3" y="551.2"/>
<use href="#tg" x="219.6" y="550.5"/>
<use href="#tg" x="243.5" y="604.0"/>
<use href="#tg" x="273.0" y="542.7"/>
<use href="#tg" x="273.7" y="536.7"/>
<use href="#tg" x="287.4" y="591.2"/>
<use href="#tg" x="319.3" y="604.8"/>
<use href="#tg" x="259.4" y="601.4"/>
<use href="#tg" x="235.2" y="619.7"/>
<use href="#tg" x="228.0" y="558.4"/>
<use href="#tg" x="263.4" y="585.4"/>
<use href="#tg" x="309.7" y="585.6"/>
<use href="#tg" x="328.7" y="623.8"/>
<use href="#tg" x="239.7" y="557.4"/>
<use href="#tg" x="317.7" y="571.0"/>
<use href="#tg" x="287.6" y="570.6"/>
<use href="#tg" x="241.8" y="561.7"/>
<use href="#tg" x="302.8" y="650.6"/>
<use href="#tg" x="247.4" y="600.8"/>
<use href="#tg" x="289.3" y="619.1"/>
<use href="#tg" x="238.4" y="543.9"/>
<use href="#tg" x="228.0" y="547.5"/>
<use href="#tg" x="314.3" y="641.4"/>
<use href="#tg" x="225.8" y="599.4"/>
<use href="#tg" x="257.2" y="551.0"/>
<use href="#tg" x="272.9" y="600.1"/>
<use href="#tg" x="288.8" y="573.9"/>
<use href="#tg" x="275.9" y="604.3"/>
<use href="#tg" x="261.5" y="635.8"/>
<use href="#tg" x="260.1" y="621.2"/>
<use href="#tg" x="315.9" y="581.6"/>
<use href="#tg" x="272.4" y="556.9"/>
<use href="#tg" x="300.9" y="569.5"/>
<use href="#tg" x="286.5" y="557.3"/>
<use href="#tg" x="249.7" y="578.9"/>
<use href="#tg" x="300.3" y="594.5"/>
<use href="#tg" x="246.9" y="558.1"/>
<use href="#tg" x="275.3" y="607.8"/>
<use href="#tg" x="278.8" y="607.9"/>
<use href="#tg" x="251.2" y="569.7"/>
<use href="#tg" x="266.4" y="587.0"/>
<use href="#tg" x="331.3" y="619.2"/>
<use href="#tg" x="326.1" y="608.5"/>
<use href="#tg" x="240.7" y="609.1"/>
<use href="#tg" x="286.8" y="577.4"/>
<use href="#tg" x="311.3" y="618.8"/>
<use href="#tg" x="264.5" y="565.9"/>
<use href="#tg" x="246.7" y="617.1"/>
<use href="#tg" x="339.6" y="627.1"/>
<use href="#tg" x="241.0" y="552.2"/>
<use href="#tg" x="271.8" y="634.1"/>
<use href="#tg" x="253.1" y="633.8"/>
<use href="#tg" x="262.1" y="590.0"/>
<use href="#tg" x="285.0" y="592.0"/>
<use href="#tg" x="250.4" y="552.4"/>
<use href="#tg" x="257.7" y="537.0"/>
<use href="#tg" x="298.7" y="571.3"/>
<use href="#tg" x="290.9" y="649.8"/>
<use href="#tg" x="304.5" y="610.9"/>
<use href="#tg" x="270.8" y="578.8"/>
<use href="#tg" x="314.0" y="628.8"/>
<use href="#tg" x="319.9" y="595.1"/>
<use href="#tg" x="211.5" y="594.8"/>
<use href="#tg" x="308.2" y="641.7"/>
<use href="#tg" x="210.7" y="608.3"/>
<use href="#tg" x="307.7" y="588.1"/>
<use href="#tg" x="224.0" y="590.6"/>
<use href="#tg" x="322.4" y="596.0"/>
<use href="#tg" x="339.4" y="607.5"/>
<use href="#tg" x="294.4" y="596.6"/>
<use href="#tg" x="237.7" y="577.1"/>
<use href="#tg" x="212.4" y="573.6"/>
<use href="#tg" x="331.4" y="597.5"/>
<use href="#tg" x="334.5" y="643.8"/>
<use href="#tg" x="333.8" y="600.8"/>
<use href="#tg" x="297.3" y="545.5"/>
<use href="#tg" x="238.1" y="623.4"/>
<use href="#tg" x="323.5" y="616.4"/>
<use href="#tg" x="322.2" y="583.8"/>
<use href="#tg" x="321.1" y="647.8"/>
<use href="#tg" x="267.9" y="578.3"/>
<use href="#tg" x="282.8" y="543.3"/>
<use href="#tg" x="321.2" y="584.6"/>
<use href="#tg" x="214.4" y="567.5"/>
<use href="#tg" x="333.5" y="590.2"/>
<use href="#tg" x="215.7" y="584.4"/>
<use href="#tg" x="304.3" y="593.8"/>
<use href="#tg" x="242.1" y="568.4"/>
<use href="#tg" x="295.6" y="576.0"/>
<use href="#tg" x="250.5" y="569.3"/>
<use href="#tg" x="321.5" y="582.2"/>
<use href="#tg" x="290.3" y="604.2"/>
<use href="#tg" x="240.5" y="541.5"/>
<use href="#tg" x="235.9" y="587.9"/>
<use href="#tg" x="291.9" y="622.4"/>
<use href="#tg" x="209.2" y="593.4"/>
<use href="#tg" x="237.3" y="594.0"/>
<use href="#tg" x="280.4" y="566.0"/>
<use href="#tg" x="291.4" y="595.3"/>
<use href="#tg" x="278.0" y="615.3"/>
<use href="#tg" x="256.0" y="552.8"/>
<use href="#tg" x="347.4" y="601.8"/>
<use href="#tg" x="299.5" y="648.8"/>
<use href="#tg" x="205.3" y="566.1"/>
<use href="#tg" x="281.1" y="572.0"/>
<use href="#tg" x="242.7" y="591.7"/>
<use href="#tg" x="277.6" y="630.4"/>
<use href="#tg" x="237.5" y="570.3"/>
<use href="#tg" x="241.3" y="552.1"/>
<use href="#tg" x="293.5" y="557.6"/>
<use href="#tg" x="315.7" y="623.1"/>
<use href="#tg" x="294.5" y="591.6"/>
<use href="#tg" x="249.1" y="616.9"/>
<use href="#tg" x="329.2" y="648.4"/>
<use href="#tg" x="278.6" y="618.5"/>
<use href="#tg" x="261.2" y="578.6"/>
<use href="#tg" x="313.6" y="602.7"/>
<use href="#tg" x="282.7" y="591.4"/>
<use href="#tg" x="256.0" y="606.0"/>
<use href="#tg" x="324.5" y="596.3"/>
<use href="#tg" x="267.0" y="588.4"/>
<use href="#tg" x="212.8" y="561.1"/>
<use href="#tg" x="293.3" y="588.6"/>
<use href="#tg" x="246.7" y="585.1"/>
<use href="#tg" x="309.5" y="576.5"/>
<use href="#tg" x="309.6" y="571.4"/>
<use href="#tg" x="324.2" y="575.5"/>
<use href="#tg" x="255.9" y="584.3"/>
<use href="#tg" x="277.8" y="577.1"/>
<use href="#tg" x="237.3" y="579.3"/>
<use href="#tg" x="299.9" y="577.5"/>
<use href="#tg" x="325.8" y="622.2"/>
<use href="#tg" x="227.7" y="585.5"/>
<use href="#tg" x="278.2" y="618.2"/>
<use href="#tg" x="251.5" y="572.7"/>
<use href="#tg" x="290.5" y="595.1"/>
<use href="#tg" x="286.2" y="648.0"/>
<use href="#tg" x="335.8" y="603.7"/>
<use href="#tg" x="335.3" y="620.7"/>
<use href="#tg" x="314.4" y="647.2"/>
<use href="#tg" x="240.9" y="568.7"/>
<use href="#tg" x="276.4" y="548.7"/>
<use href="#tg" x="290.1" y="594.9"/>
<use href="#tg" x="252.2" y="598.2"/>
<use href="#tg" x="321.2" y="624.9"/>
<use href="#tg" x="231.4" y="567.6"/>
<use href="#tg" x="282.1" y="568.3"/>
<use href="#tg" x="307.7" y="607.6"/>
<use href="#tg" x="292.0" y="644.2"/>
<use href="#tg" x="242.2" y="583.6"/>
<use href="#tg" x="249.6" y="589.3"/>
<use href="#tg" x="302.2" y="555.7"/>
<use href="#tg" x="343.3" y="645.0"/>
<use href="#tg" x="277.2" y="546.0"/>
<use href="#tg" x="254.2" y="633.6"/>
<use href="#tg" x="320.4" y="593.2"/>
<use href="#tg" x="299.6" y="607.6"/>
<use href="#tg" x="249.2" y="551.4"/>
<use href="#tg" x="200.3" y="581.3"/>
<use href="#tg" x="277.9" y="602.1"/>
<use href="#tg" x="254.4" y="618.2"/>
<use href="#tg" x="250.4" y="563.1"/>
<use href="#tg" x="269.4" y="579.5"/>
<use href="#tg" x="292.2" y="542.8"/>
<use href="#tg" x="274.7" y="602.1"/>
<use href="#tg" x="242.2" y="582.1"/>
<use href="#tg" x="275.9" y="570.1"/>
<use href="#tg" x="266.4" y="596.9"/>
<use href="#tg" x="247.2" y="609.6"/>
<use href="#tg" x="233.9" y="601.5"/>
<use href="#tg" x="267.8" y="590.1"/>
<use href="#tg" x="296.1" y="628.6"/>
<use href="#tg" x="228.3" y="547.9"/>
<use href="#tg" x="252.2" y="574.5"/>
<use href="#tg" x="307.0" y="559.7"/>
<use href="#tg" x="284.4" y="622.0"/>
<use href="#tg" x="243.3" y="612.9"/>
<use href="#tg" x="272.8" y="618.9"/>
<use href="#tg" x="312.3" y="591.6"/>
<use href="#tg" x="284.0" y="586.5"/>
<use href="#tg" x="294.0" y="577.7"/>
<use href="#tg" x="278.6" y="613.0"/>
<use href="#tg" x="320.2" y="615.7"/>
<use href="#tg" x="290.3" y="638.2"/>
<use href="#tg" x="209.5" y="590.2"/>
<use href="#tg" x="237.4" y="552.7"/>
<use href="#tg" x="293.2" y="608.3"/>
<use href="#tg" x="284.4" y="622.1"/>
<use href="#tg" x="281.8" y="593.3"/>
<use href="#tg" x="279.4" y="630.5"/>
<use href="#tg" x="218.6" y="615.2"/>
<use href="#tg" x="337.5" y="607.9"/>
<use href="#tg" x="235.6" y="581.3"/>
<use href="#tg" x="352.3" y="627.2"/>
<use href="#tg" x="284.5" y="589.6"/>
<use href="#tg" x="309.6" y="614.9"/>
<use href="#tg" x="255.5" y="582.8"/>
<use href="#tg" x="282.6" y="573.8"/>
<use href="#tg" x="322.6" y="649.4"/>
<use href="#tg" x="264.8" y="534.5"/>
<use href="#tg" x="279.9" y="544.9"/>
<use href="#tg" x="314.0" y="627.6"/>
<use href="#tg" x="258.1" y="626.2"/>
<use href="#tg" x="283.7" y="623.9"/>
<use href="#tg" x="297.0" y="558.5"/>
<use href="#tg" x="234.8" y="606.7"/>
<use href="#tg" x="269.5" y="630.4"/>
<use href="#tg" x="289.6" y="571.1"/>
<use href="#tg" x="250.0" y="629.1"/>
<use href="#tg" x="279.7" y="631.2"/>
<use href="#tg" x="236.6" y="560.9"/>
<use href="#tg" x="346.7" y="616.3"/>
<use href="#tg" x="260.2" y="620.6"/>
<use href="#tg" x="304.2" y="561.1"/>
<use href="#tg" x="299.2" y="624.2"/>
<use href="#tg" x="247.8" y="598.3"/>
<use href="#tg" x="296.7" y="576.1"/>
<use href="#tg" x="312.6" y="645.6"/>
<use href="#tg" x="234.1" y="623.2"/>
<use href="#tg" x="317.0" y="643.1"/>
<use href="#tg" x="290.0" y="587.8"/>
<use href="#tg" x="316.1" y="558.6"/>
<use href="#tg" x="285.7" y="619.0"/>
<use href="#tg" x="251.9" y="540.7"/>
<use href="#tg" x="240.6" y="612.9"/>
<use href="#tg" x="281.2" y="582.1"/>
<use href="#tg" x="286.1" y="595.8"/>
<use href="#tg" x="310.7" y="628.4"/>
<use href="#tg" x="321.6" y="591.7"/>
<use href="#tg" x="278.2" y="571.0"/>
<use href="#tg" x="287.7" y="619.8"/>
<use href="#tg" x="321.0" y="576.2"/>
<use href="#tg" x="258.2" y="618.9"/>
<use href="#tg" x="324.2" y="606.7"/>
<use href="#tg" x="268.1" y="613.0"/>
<use href="#tg" x="281.1" y="604.9"/>
<use href="#tg" x="273.1" y="641.8"/>
<use href="#tg" x="340.2" y="621.1"/>
<use href="#tg" x="210.2" y="612.5"/>
<use href="#tg" x="229.3" y="559.0"/>
<use href="#tg" x="268.6" y="634.3"/>
<use href="#tg" x="297.7" y="643.2"/>
<use href="#tg" x="281.7" y="555.3"/>
<use href="#tg" x="269.3" y="605.9"/>
<use href="#tg" x="218.3" y="620.9"/>
<use href="#tg" x="322.0" y="585.3"/>
<use href="#tg" x="293.7" y="586.6"/>
<use href="#tg" x="301.1" y="648.1"/>
<use href="#tg" x="276.3" y="567.0"/>
<use href="#tg" x="134.6" y="464.3"/>
<use href="#tg" x="137.0" y="543.3"/>
<use href="#tg" x="201.4" y="511.0"/>
<use href="#tg" x="207.0" y="517.0"/>
<use href="#tg" x="242.7" y="524.0"/>
<use href="#tg" x="225.0" y="535.0"/>
<use href="#tg" x="231.0" y="535.0"/>
<use href="#tg" x="202.5" y="548.0"/>
<use href="#tg" x="206.0" y="549.0"/>
<use href="#tg" x="204.0" y="553.0"/>
<use href="#tg" x="214.0" y="563.0"/>
<use href="#tg" x="176.5" y="584.5"/>
<use href="#tg" x="187.0" y="594.0"/>
<use href="#tg" x="202.5" y="591.6"/>
<use href="#tg" x="190.0" y="581.0"/>
<use href="#tg" x="207.0" y="603.5"/>
<use href="#tg" x="220.0" y="609.0"/>
<use href="#tg" x="232.0" y="621.0"/>
<use href="#tg" x="258.0" y="497.0"/>
<use href="#tg" x="295.8" y="504.5"/>
<use href="#tg" x="297.0" y="507.0"/>
<use href="#tg" x="287.0" y="526.0"/>
<use href="#tg" x="299.4" y="533.7"/>
<use href="#tg" x="327.0" y="539.8"/>
<use href="#tg" x="318.8" y="548.0"/>
<use href="#tg" x="322.0" y="552.0"/>
<use href="#tg" x="361.0" y="559.0"/>
<use href="#tg" x="361.0" y="583.4"/>
<use href="#tg" x="343.0" y="584.7"/>
<use href="#tg" x="349.0" y="586.0"/>
<use href="#tg" x="339.5" y="573.7"/>
<use href="#tg" x="380.7" y="615.0"/>
<use href="#tg" x="367.4" y="626.0"/>
<use href="#tg" x="343.0" y="649.0"/>
<use href="#tg" x="335.8" y="662.0"/>
<use href="#tg" x="338.0" y="670.8"/>
<use href="#tg" x="300.0" y="668.0"/>
<use href="#tg" x="357.7" y="498.5"/>
<use href="#tg" x="375.9" y="493.6"/>
<use href="#tg" x="375.9" y="522.8"/>
<use href="#tg" x="386.8" y="518.0"/>
<use href="#tg" x="418.9" y="570.6"/>
<use href="#tg" x="457.3" y="570.6"/>
<use href="#tg" x="352.0" y="640.0"/>
<use href="#tg" x="330.0" y="560.0"/>
<use href="#tg" x="336.0" y="566.0"/>
</g><g>
<use href="#cm" x="288.9" y="636.6"/>
<use href="#cm" x="264.8" y="563.0"/>
<use href="#cm" x="290.2" y="626.8"/>
<use href="#cm" x="245.2" y="611.9"/>
<use href="#cm" x="310.1" y="562.5"/>
<use href="#cm" x="243.8" y="593.5"/>
<use href="#cm" x="334.6" y="599.4"/>
<use href="#cm" x="313.7" y="634.6"/>
<use href="#cm" x="265.2" y="639.4"/>
<use href="#cm" x="243.8" y="627.9"/>
<use href="#cm" x="290.9" y="612.0"/>
<use href="#cm" x="238.6" y="563.9"/>
<use href="#cm" x="350.2" y="598.1"/>
<use href="#cm" x="266.2" y="625.9"/>
<use href="#cm" x="222.7" y="567.0"/>
<use href="#cm" x="253.7" y="557.2"/>
<use href="#cm" x="334.9" y="619.4"/>
<use href="#cm" x="214.2" y="566.5"/>
<use href="#cm" x="294.0" y="594.1"/>
<use href="#cm" x="309.3" y="601.7"/>
<use href="#cm" x="326.9" y="577.6"/>
<use href="#cm" x="297.5" y="648.1"/>
<use href="#cm" x="224.3" y="579.1"/>
<use href="#cm" x="247.6" y="558.6"/>
<use href="#cm" x="295.4" y="582.3"/>
<use href="#cm" x="285.7" y="630.2"/>
<use href="#cm" x="226.9" y="559.8"/>
<use href="#cm" x="273.9" y="625.6"/>
<use href="#cm" x="270.5" y="568.7"/>
<use href="#cm" x="258.6" y="570.8"/>
<use href="#cm" x="284.5" y="629.9"/>
<use href="#cm" x="326.9" y="651.1"/>
<use href="#cm" x="239.7" y="597.5"/>
<use href="#cm" x="285.7" y="554.8"/>
<use href="#cm" x="247.7" y="566.6"/>
<use href="#cm" x="296.5" y="585.3"/>
<use href="#cm" x="232.9" y="571.9"/>
<use href="#cm" x="310.0" y="631.2"/>
<use href="#cm" x="227.8" y="616.3"/>
<use href="#cm" x="285.3" y="592.2"/>
<use href="#cm" x="272.9" y="583.0"/>
<use href="#cm" x="295.0" y="621.6"/>
<use href="#cm" x="305.9" y="597.5"/>
<use href="#cm" x="220.4" y="576.8"/>
<use href="#cm" x="292.7" y="628.5"/>
<use href="#cm" x="275.5" y="620.0"/>
<use href="#cm" x="330.9" y="586.2"/>
<use href="#cm" x="219.0" y="581.4"/>
<use href="#cm" x="273.8" y="582.2"/>
<use href="#cm" x="255.3" y="575.8"/>
<use href="#cm" x="311.3" y="648.7"/>
<use href="#cm" x="230.3" y="593.2"/>
<use href="#cm" x="288.5" y="582.7"/>
<use href="#cm" x="272.3" y="599.2"/>
<use href="#cm" x="340.4" y="603.1"/>
<use href="#cm" x="311.8" y="653.2"/>
<use href="#cm" x="339.9" y="617.1"/>
<use href="#cm" x="286.3" y="570.9"/>
<use href="#cm" x="280.3" y="607.3"/>
<use href="#cm" x="305.3" y="602.4"/>
<use href="#cm" x="326.5" y="639.7"/>
<use href="#cm" x="291.8" y="647.6"/>
<use href="#cm" x="265.1" y="576.3"/>
<use href="#cm" x="272.3" y="556.7"/>
<use href="#cm" x="328.3" y="613.1"/>
<use href="#cm" x="268.0" y="582.0"/>
<use href="#cm" x="274.4" y="629.7"/>
<use href="#cm" x="277.4" y="592.8"/>
<use href="#cm" x="272.1" y="641.2"/>
<use href="#cm" x="310.7" y="588.3"/>
<use href="#cm" x="213.1" y="610.1"/>
<use href="#cm" x="300.4" y="619.6"/>
<use href="#cm" x="356.0" y="620.0"/>
<use href="#cm" x="267.8" y="577.4"/>
<use href="#cm" x="285.4" y="583.3"/>
<use href="#cm" x="228.0" y="569.1"/>
<use href="#cm" x="216.6" y="597.5"/>
<use href="#cm" x="308.2" y="628.5"/>
<use href="#cm" x="231.2" y="576.2"/>
<use href="#cm" x="229.3" y="617.0"/>
<use href="#cm" x="225.3" y="588.0"/>
<use href="#cm" x="276.7" y="543.4"/>
<use href="#cm" x="280.4" y="628.1"/>
<use href="#cm" x="293.2" y="561.8"/>
<use href="#cm" x="252.4" y="600.6"/>
<use href="#cm" x="333.1" y="583.9"/>
<use href="#cm" x="284.6" y="576.3"/>
<use href="#cm" x="276.4" y="538.6"/>
<use href="#cm" x="302.0" y="618.8"/>
<use href="#cm" x="232.7" y="609.3"/>
<use href="#cm" x="212.4" y="569.7"/>
<use href="#cm" x="245.4" y="618.7"/>
<use href="#cm" x="297.1" y="593.3"/>
<use href="#cm" x="302.5" y="567.4"/>
<use href="#cm" x="309.0" y="563.2"/>
<use href="#cm" x="281.2" y="640.1"/>
<use href="#cm" x="287.9" y="571.3"/>
<use href="#cm" x="297.9" y="584.5"/>
<use href="#cm" x="272.4" y="586.0"/>
<use href="#cm" x="218.2" y="553.1"/>
<use href="#cm" x="257.6" y="586.7"/>
<use href="#cm" x="279.8" y="561.7"/>
<use href="#cm" x="338.6" y="605.1"/>
<use href="#cm" x="335.9" y="591.1"/>
<use href="#cm" x="234.8" y="580.8"/>
<use href="#cm" x="298.2" y="609.5"/>
<use href="#cm" x="298.1" y="644.9"/>
<use href="#cm" x="273.5" y="599.9"/>
<use href="#cm" x="299.4" y="597.7"/>
<use href="#cm" x="288.4" y="578.6"/>
<use href="#cm" x="339.9" y="615.3"/>
<use href="#cm" x="208.6" y="560.8"/>
<use href="#cm" x="331.8" y="639.8"/>
<use href="#cm" x="302.3" y="629.9"/>
<use href="#cm" x="319.0" y="590.9"/>
<use href="#cm" x="329.4" y="622.8"/>
<use href="#cm" x="248.4" y="560.0"/>
<use href="#cm" x="285.9" y="596.9"/>
<use href="#cm" x="245.3" y="539.2"/>
<use href="#cm" x="312.1" y="607.7"/>
<use href="#cm" x="278.1" y="560.2"/>
<use href="#cm" x="269.9" y="579.2"/>
<use href="#cm" x="289.2" y="543.2"/>
<use href="#cm" x="267.0" y="563.5"/>
<use href="#cm" x="256.8" y="594.9"/>
<use href="#cm" x="262.9" y="556.0"/>
<use href="#cm" x="291.4" y="646.1"/>
<use href="#cm" x="273.8" y="571.7"/>
<use href="#cm" x="261.0" y="589.4"/>
<use href="#cm" x="298.2" y="598.0"/>
<use href="#cm" x="236.0" y="590.5"/>
<use href="#cm" x="325.9" y="588.2"/>
<use href="#cm" x="277.9" y="554.2"/>
<use href="#cm" x="271.7" y="588.2"/>
<use href="#cm" x="277.1" y="594.9"/>
<use href="#cm" x="219.3" y="569.1"/>
<use href="#cm" x="274.7" y="608.5"/>
<use href="#cm" x="324.2" y="595.6"/>
<use href="#cm" x="230.9" y="550.9"/>
<use href="#cm" x="303.7" y="629.6"/>
<use href="#cm" x="230.4" y="556.4"/>
<use href="#cm" x="256.1" y="558.3"/>
<use href="#cm" x="311.9" y="572.4"/>
<use href="#cm" x="272.3" y="618.2"/>
<use href="#cm" x="275.2" y="561.7"/>
<use href="#cm" x="268.9" y="625.1"/>
<use href="#cm" x="335.3" y="591.9"/>
<use href="#cm" x="294.6" y="602.7"/>
<use href="#cm" x="295.1" y="563.1"/>
<use href="#cm" x="302.5" y="587.3"/>
<use href="#cm" x="233.5" y="559.9"/>
<use href="#cm" x="265.1" y="548.4"/>
<use href="#cm" x="259.7" y="592.0"/>
<use href="#cm" x="249.8" y="595.3"/>
<use href="#cm" x="222.3" y="565.6"/>
<use href="#cm" x="301.3" y="640.0"/>
<use href="#cm" x="301.9" y="650.5"/>
<use href="#cm" x="283.4" y="573.7"/>
<use href="#cm" x="307.6" y="620.9"/>
<use href="#cm" x="310.6" y="628.0"/>
<use href="#cm" x="231.9" y="579.9"/>
<use href="#cm" x="297.9" y="607.0"/>
<use href="#cm" x="297.0" y="576.5"/>
<use href="#cm" x="228.9" y="572.5"/>
<use href="#cm" x="318.6" y="628.1"/>
<use href="#cm" x="343.1" y="608.4"/>
<use href="#cm" x="313.8" y="621.1"/>
<use href="#cm" x="301.2" y="580.3"/>
<use href="#cm" x="261.0" y="604.3"/>
<use href="#cm" x="252.2" y="626.2"/>
<use href="#cm" x="322.0" y="628.9"/>
<use href="#cm" x="238.6" y="567.3"/>
<use href="#cm" x="246.3" y="589.9"/>
<use href="#cm" x="263.4" y="534.6"/>
<use href="#cm" x="322.7" y="608.4"/>
<use href="#cm" x="257.5" y="562.9"/>
<use href="#cm" x="326.7" y="628.9"/>
<use href="#cm" x="271.6" y="550.3"/>
<use href="#cm" x="324.5" y="623.1"/>
<use href="#cm" x="268.5" y="596.0"/>
<use href="#cm" x="261.5" y="559.9"/>
<use href="#cm" x="333.3" y="603.8"/>
<use href="#cm" x="266.6" y="581.4"/>
<use href="#cm" x="273.5" y="608.9"/>
<use href="#cm" x="295.0" y="560.6"/>
<use href="#cm" x="215.1" y="552.7"/>
<use href="#cm" x="261.4" y="587.4"/>
<use href="#cm" x="341.2" y="637.3"/>
<use href="#cm" x="226.5" y="564.4"/>
<use href="#cm" x="303.8" y="578.3"/>
<use href="#cm" x="284.3" y="639.6"/>
<use href="#cm" x="271.3" y="606.1"/>
<use href="#cm" x="252.1" y="589.5"/>
<use href="#cm" x="256.0" y="600.0"/>
<use href="#cm" x="329.7" y="626.3"/>
<use href="#cm" x="215.1" y="565.5"/>
<use href="#cm" x="207.3" y="594.8"/>
<use href="#cm" x="322.0" y="586.0"/>
<use href="#cm" x="295.2" y="645.6"/>
<use href="#cm" x="256.5" y="634.5"/>
<use href="#cm" x="259.9" y="609.2"/>
<use href="#cm" x="251.1" y="603.0"/>
<use href="#cm" x="280.7" y="612.4"/>
<use href="#cm" x="252.2" y="576.1"/>
<use href="#cm" x="304.2" y="646.3"/>
<use href="#cm" x="243.5" y="546.8"/>
<use href="#cm" x="285.1" y="577.3"/>
<use href="#cm" x="267.1" y="558.1"/>
<use href="#cm" x="269.7" y="621.0"/>
<use href="#cm" x="214.0" y="577.0"/>
<use href="#cm" x="304.4" y="580.9"/>
<use href="#cm" x="321.2" y="589.4"/>
<use href="#cm" x="264.6" y="612.9"/>
<use href="#cm" x="288.1" y="609.0"/>
<use href="#cm" x="323.8" y="573.1"/>
<use href="#cm" x="252.1" y="572.2"/>
<use href="#cm" x="275.4" y="594.6"/>
<use href="#cm" x="267.7" y="647.7"/>
<use href="#cm" x="270.0" y="595.8"/>
<use href="#cm" x="274.1" y="574.4"/>
<use href="#cm" x="254.4" y="600.0"/>
<use href="#cm" x="329.2" y="631.5"/>
<use href="#cm" x="266.0" y="576.6"/>
<use href="#cm" x="230.3" y="573.6"/>
<use href="#cm" x="300.7" y="640.3"/>
<use href="#cm" x="231.6" y="596.1"/>
<use href="#cm" x="322.4" y="631.9"/>
<use href="#cm" x="304.8" y="604.2"/>
<use href="#cm" x="342.5" y="599.0"/>
<use href="#cm" x="217.6" y="575.3"/>
<use href="#cm" x="340.7" y="601.0"/>
<use href="#cm" x="245.3" y="619.8"/>
<use href="#cm" x="286.7" y="622.2"/>
<use href="#cm" x="230.3" y="624.4"/>
<use href="#cm" x="270.3" y="581.2"/>
<use href="#cm" x="316.4" y="643.5"/>
<use href="#cm" x="249.7" y="612.8"/>
<use href="#cm" x="267.7" y="609.7"/>
<use href="#cm" x="234.0" y="598.6"/>
<use href="#cm" x="297.8" y="601.4"/>
<use href="#cm" x="257.0" y="625.7"/>
<use href="#cm" x="253.8" y="600.8"/>
<use href="#cm" x="279.2" y="585.0"/>
<use href="#cm" x="236.9" y="589.0"/>
<use href="#cm" x="233.5" y="545.2"/>
<use href="#cm" x="271.2" y="570.2"/>
<use href="#cm" x="330.6" y="595.3"/>
<use href="#cm" x="298.4" y="549.4"/>
<use href="#cm" x="289.5" y="598.6"/>
<use href="#cm" x="264.4" y="567.5"/>
<use href="#cm" x="226.1" y="585.6"/>
<use href="#cm" x="326.7" y="657.1"/>
<use href="#cm" x="305.8" y="625.8"/>
<use href="#cm" x="288.1" y="547.7"/>
<use href="#cm" x="336.9" y="607.6"/>
<use href="#cm" x="233.0" y="545.0"/>
<use href="#cm" x="265.3" y="559.3"/>
<use href="#cm" x="271.8" y="565.2"/>
<use href="#cm" x="277.4" y="554.7"/>
<use href="#cm" x="314.6" y="578.6"/>
<use href="#cm" x="234.2" y="564.3"/>
<use href="#cm" x="338.4" y="641.2"/>
<use href="#cm" x="305.5" y="544.4"/>
<use href="#cm" x="264.6" y="544.9"/>
<use href="#cm" x="308.7" y="636.8"/>
<use href="#cm" x="218.7" y="588.7"/>
<use href="#cm" x="263.8" y="570.3"/>
<use href="#cm" x="267.5" y="576.6"/>
<use href="#cm" x="271.1" y="640.7"/>
<use href="#cm" x="222.1" y="549.1"/>
<use href="#cm" x="246.0" y="586.5"/>
<use href="#cm" x="282.6" y="569.9"/>
<use href="#cm" x="265.1" y="593.3"/>
<use href="#cm" x="215.0" y="610.5"/>
<use href="#cm" x="294.2" y="644.2"/>
<use href="#cm" x="295.6" y="607.9"/>
<use href="#cm" x="335.1" y="595.5"/>
<use href="#cm" x="283.7" y="602.8"/>
<use href="#cm" x="245.5" y="610.3"/>
<use href="#cm" x="261.6" y="604.7"/>
<use href="#cm" x="248.3" y="579.8"/>
<use href="#cm" x="284.3" y="559.9"/>
<use href="#cm" x="253.5" y="622.5"/>
<use href="#cm" x="290.3" y="617.5"/>
<use href="#cm" x="311.1" y="572.1"/>
<use href="#cm" x="300.9" y="641.8"/>
<use href="#cm" x="285.4" y="596.5"/>
<use href="#cm" x="289.8" y="610.8"/>
<use href="#cm" x="247.4" y="557.8"/>
<use href="#cm" x="337.8" y="588.0"/>
<use href="#cm" x="213.5" y="606.9"/>
<use href="#cm" x="306.3" y="647.4"/>
<use href="#cm" x="318.9" y="619.1"/>
<use href="#cm" x="261.5" y="600.0"/>
<use href="#cm" x="303.4" y="577.1"/>
<use href="#cm" x="345.1" y="613.6"/>
<use href="#cm" x="336.3" y="600.8"/>
<use href="#cm" x="250.2" y="612.3"/>
<use href="#cm" x="257.1" y="594.6"/>
<use href="#cm" x="279.5" y="631.4"/>
<use href="#cm" x="234.3" y="552.8"/>
<use href="#cm" x="316.2" y="570.0"/>
<use href="#cm" x="301.6" y="585.4"/>
<use href="#cm" x="249.0" y="569.7"/>
<use href="#cm" x="259.2" y="604.9"/>
<use href="#cm" x="317.5" y="612.6"/>
<use href="#cm" x="254.8" y="617.8"/>
<use href="#cm" x="299.4" y="628.7"/>
<use href="#cm" x="266.0" y="580.6"/>
<use href="#cm" x="294.4" y="642.3"/>
<use href="#cm" x="307.2" y="567.4"/>
<use href="#cm" x="312.4" y="594.3"/>
<use href="#cm" x="276.9" y="596.0"/>
<use href="#cm" x="329.3" y="593.0"/>
<use href="#cm" x="299.8" y="614.2"/>
<use href="#cm" x="225.9" y="617.2"/>
<use href="#cm" x="316.9" y="593.2"/>
<use href="#cm" x="335.7" y="625.8"/>
<use href="#cm" x="245.7" y="583.2"/>
<use href="#cm" x="315.6" y="621.7"/>
<use href="#cm" x="275.3" y="606.8"/>
<use href="#cm" x="292.4" y="603.3"/>
<use href="#cm" x="333.0" y="579.6"/>
<use href="#cm" x="255.6" y="617.6"/>
<use href="#cm" x="315.0" y="576.7"/>
<use href="#cm" x="326.9" y="616.1"/>
<use href="#cm" x="285.7" y="630.7"/>
<use href="#cm" x="304.4" y="604.7"/>
<use href="#cm" x="280.7" y="600.9"/>
<use href="#cm" x="357.3" y="614.8"/>
<use href="#cm" x="253.8" y="592.8"/>
<use href="#cm" x="282.4" y="542.5"/>
<use href="#cm" x="312.7" y="588.8"/>
<use href="#cm" x="274.2" y="553.3"/>
<use href="#cm" x="254.1" y="555.5"/>
<use href="#cm" x="302.4" y="580.6"/>
<use href="#cm" x="268.5" y="554.0"/>
<use href="#cm" x="303.7" y="539.6"/>
<use href="#cm" x="313.0" y="629.2"/>
<use href="#cm" x="322.9" y="584.8"/>
<use href="#cm" x="273.4" y="549.2"/>
<use href="#cm" x="260.3" y="627.0"/>
<use href="#cm" x="276.1" y="574.2"/>
<use href="#cm" x="278.0" y="549.1"/>
<use href="#cm" x="270.9" y="613.9"/>
<use href="#cm" x="248.8" y="601.3"/>
<use href="#cm" x="277.7" y="579.8"/>
<use href="#cm" x="315.4" y="627.5"/>
<use href="#cm" x="330.9" y="575.0"/>
<use href="#cm" x="285.4" y="593.2"/>
<use href="#cm" x="268.2" y="558.2"/>
<use href="#cm" x="340.6" y="616.2"/>
<use href="#cm" x="232.2" y="600.3"/>
<use href="#cm" x="337.3" y="597.1"/>
<use href="#cm" x="277.3" y="566.8"/>
<use href="#cm" x="346.0" y="629.1"/>
<use href="#cm" x="295.9" y="610.7"/>
<use href="#cm" x="252.1" y="559.1"/>
<use href="#cm" x="267.5" y="617.4"/>
<use href="#cm" x="288.5" y="625.4"/>
<use href="#cm" x="315.6" y="581.9"/>
<use href="#cm" x="285.7" y="589.4"/>
<use href="#cm" x="293.8" y="600.1"/>
<use href="#cm" x="249.5" y="550.9"/>
<use href="#cm" x="252.8" y="531.5"/>
<use href="#cm" x="218.2" y="600.4"/>
<use href="#cm" x="268.2" y="555.6"/>
<use href="#cm" x="283.7" y="637.9"/>
<use href="#cm" x="220.4" y="592.0"/>
<use href="#cm" x="232.0" y="554.3"/>
<use href="#cm" x="288.1" y="626.0"/>
<use href="#cm" x="310.8" y="598.5"/>
<use href="#cm" x="311.1" y="555.4"/>
<use href="#cm" x="253.1" y="582.5"/>
<use href="#cm" x="263.0" y="565.9"/>
<use href="#cm" x="246.4" y="554.1"/>
<use href="#cm" x="334.8" y="609.9"/>
<use href="#cm" x="286.2" y="609.6"/>
<use href="#cm" x="235.3" y="568.9"/>
<use href="#cm" x="296.5" y="589.2"/>
<use href="#cm" x="323.0" y="650.5"/>
<use href="#cm" x="290.1" y="588.0"/>
<use href="#cm" x="295.6" y="596.0"/>
<use href="#cm" x="303.8" y="612.1"/>
<use href="#cm" x="287.9" y="643.8"/>
<use href="#cm" x="290.2" y="601.2"/>
<use href="#cm" x="323.0" y="586.6"/>
<use href="#cm" x="268.5" y="612.9"/>
<use href="#cm" x="256.2" y="555.8"/>
<use href="#cm" x="329.5" y="634.3"/>
<use href="#cm" x="227.0" y="551.4"/>
<use href="#cm" x="304.9" y="588.4"/>
<use href="#cm" x="248.7" y="619.4"/>
<use href="#cm" x="314.9" y="628.3"/>
<use href="#cm" x="344.1" y="625.8"/>
<use href="#cm" x="293.4" y="604.3"/>
<use href="#cm" x="306.1" y="629.7"/>
<use href="#cm" x="298.0" y="572.5"/>
<use href="#cm" x="286.3" y="621.5"/>
<use href="#cm" x="225.0" y="602.8"/>
<use href="#cm" x="239.6" y="544.5"/>
<use href="#cm" x="315.4" y="641.5"/>
<use href="#cm" x="302.5" y="607.3"/>
<use href="#cm" x="301.5" y="599.2"/>
<use href="#cm" x="239.7" y="573.7"/>
<use href="#cm" x="243.8" y="570.9"/>
<use href="#cm" x="250.3" y="593.9"/>
<use href="#cm" x="248.4" y="621.0"/>
<use href="#cm" x="264.8" y="573.3"/>
<use href="#cm" x="326.8" y="560.1"/>
<use href="#cm" x="350.6" y="635.4"/>
<use href="#cm" x="290.0" y="642.6"/>
<use href="#cm" x="237.4" y="586.1"/>
<use href="#cm" x="319.2" y="588.6"/>
<use href="#cm" x="287.0" y="603.4"/>
<use href="#cm" x="231.1" y="610.4"/>
<use href="#cm" x="297.9" y="633.3"/>
<use href="#cm" x="281.8" y="582.9"/>
<use href="#cm" x="210.5" y="581.8"/>
<use href="#cm" x="301.6" y="612.9"/>
<use href="#cm" x="267.2" y="580.9"/>
<use href="#cm" x="326.7" y="617.4"/>
<use href="#cm" x="233.3" y="584.5"/>
<use href="#cm" x="248.4" y="629.1"/>
<use href="#cm" x="266.1" y="564.5"/>
<use href="#cm" x="328.1" y="603.6"/>
<use href="#cm" x="268.6" y="575.9"/>
<use href="#cm" x="299.2" y="580.3"/>
<use href="#cm" x="334.8" y="570.7"/>
<use href="#cm" x="276.2" y="587.7"/>
<use href="#cm" x="248.1" y="564.8"/>
<use href="#cm" x="225.3" y="575.0"/>
<use href="#cm" x="254.9" y="551.9"/>
<use href="#cm" x="324.1" y="586.6"/>
<use href="#cm" x="292.3" y="638.7"/>
<use href="#cm" x="310.3" y="606.2"/>
<use href="#cm" x="261.9" y="623.0"/>
<use href="#cm" x="310.5" y="630.3"/>
<use href="#cm" x="254.4" y="613.9"/>
<use href="#cm" x="317.9" y="611.6"/>
<use href="#cm" x="319.0" y="596.7"/>
<use href="#cm" x="212.6" y="611.6"/>
<use href="#cm" x="288.1" y="595.1"/>
<use href="#cm" x="329.0" y="600.7"/>
<use href="#cm" x="320.4" y="634.8"/>
<use href="#cm" x="244.6" y="602.5"/>
<use href="#cm" x="279.4" y="598.0"/>
<use href="#cm" x="246.4" y="577.8"/>
<use href="#cm" x="250.0" y="594.8"/>
<use href="#cm" x="287.9" y="641.4"/>
<use href="#cm" x="265.6" y="544.6"/>
<use href="#cm" x="331.6" y="581.6"/>
<use href="#cm" x="295.1" y="633.5"/>
<use href="#cm" x="328.1" y="589.6"/>
<use href="#cm" x="243.1" y="570.3"/>
<use href="#cm" x="264.3" y="591.3"/>
<use href="#cm" x="328.0" y="575.2"/>
<use href="#cm" x="308.2" y="604.9"/>
<use href="#cm" x="264.8" y="546.9"/>
<use href="#cm" x="249.3" y="568.5"/>
<use href="#cm" x="302.5" y="619.7"/>
<use href="#cm" x="258.9" y="575.5"/>
<use href="#cm" x="302.2" y="601.3"/>
<use href="#cm" x="301.0" y="628.6"/>
<use href="#cm" x="277.2" y="583.5"/>
<use href="#cm" x="324.1" y="618.5"/>
<use href="#cm" x="289.1" y="613.9"/>
<use href="#cm" x="312.4" y="635.9"/>
<use href="#cm" x="287.1" y="639.9"/>
<use href="#cm" x="249.2" y="617.7"/>
<use href="#cm" x="333.2" y="594.6"/>
<use href="#cm" x="290.1" y="565.8"/>
<use href="#cm" x="280.0" y="588.7"/>
<use href="#cm" x="290.5" y="600.0"/>
<use href="#cm" x="278.7" y="635.6"/>
<use href="#cm" x="259.8" y="618.3"/>
<use href="#cm" x="340.6" y="625.3"/>
<use href="#cm" x="323.4" y="649.0"/>
<use href="#cm" x="248.1" y="576.4"/>
<use href="#cm" x="209.1" y="585.8"/>
<use href="#cm" x="256.9" y="565.8"/>
<use href="#cm" x="287.9" y="567.8"/>
<use href="#cm" x="283.7" y="625.7"/>
<use href="#cm" x="287.7" y="629.6"/>
<use href="#cm" x="284.6" y="603.1"/>
<use href="#cm" x="272.4" y="639.6"/>
<use href="#cm" x="281.3" y="566.9"/>
<use href="#cm" x="251.7" y="631.6"/>
<use href="#cm" x="278.8" y="554.9"/>
<use href="#cm" x="324.9" y="576.4"/>
<use href="#cm" x="211.2" y="573.2"/>
<use href="#cm" x="223.9" y="604.3"/>
<use href="#cm" x="274.5" y="637.9"/>
<use href="#cm" x="276.7" y="607.8"/>
<use href="#cm" x="309.5" y="616.9"/>
<use href="#cm" x="339.8" y="611.4"/>
<use href="#cm" x="271.4" y="594.0"/>
<use href="#cm" x="273.5" y="616.5"/>
<use href="#cm" x="256.2" y="576.8"/>
<use href="#cm" x="307.0" y="552.5"/>
<use href="#cm" x="242.6" y="535.2"/>
<use href="#cm" x="277.0" y="578.2"/>
<use href="#cm" x="263.6" y="624.9"/>
<use href="#cm" x="239.9" y="603.9"/>
<use href="#cm" x="306.6" y="603.5"/>
<use href="#cm" x="261.1" y="569.5"/>
<use href="#cm" x="312.6" y="601.5"/>
<use href="#cm" x="225.9" y="586.4"/>
<use href="#cm" x="270.1" y="539.9"/>
<use href="#cm" x="280.6" y="568.2"/>
<use href="#cm" x="282.3" y="640.8"/>
<use href="#cm" x="290.2" y="602.9"/>
<use href="#cm" x="246.2" y="604.6"/>
<use href="#cm" x="227.1" y="564.6"/>
<use href="#cm" x="248.8" y="563.7"/>
<use href="#cm" x="285.4" y="623.7"/>
<use href="#cm" x="262.2" y="586.3"/>
<use href="#cm" x="352.6" y="611.3"/>
<use href="#cm" x="214.6" y="596.6"/>
<use href="#cm" x="307.8" y="577.8"/>
<use href="#cm" x="303.0" y="552.9"/>
<use href="#cm" x="242.7" y="576.7"/>
<use href="#cm" x="308.3" y="612.0"/>
<use href="#cm" x="289.2" y="607.5"/>
<use href="#cm" x="233.5" y="568.6"/>
<use href="#cm" x="214.6" y="602.8"/>
<use href="#cm" x="274.6" y="609.3"/>
<use href="#cm" x="245.2" y="631.5"/>
<use href="#cm" x="334.7" y="584.8"/>
<use href="#cm" x="311.5" y="614.9"/>
<use href="#cm" x="333.5" y="647.8"/>
<use href="#cm" x="261.7" y="605.6"/>
<use href="#cm" x="255.9" y="558.9"/>
<use href="#cm" x="320.5" y="641.4"/>
<use href="#cm" x="273.2" y="570.4"/>
<use href="#cm" x="269.0" y="625.9"/>
<use href="#cm" x="248.4" y="556.0"/>
<use href="#cm" x="292.2" y="581.3"/>
<use href="#cm" x="276.9" y="615.1"/>
<use href="#cm" x="273.4" y="587.9"/>
<use href="#cm" x="227.2" y="597.9"/>
<use href="#cm" x="291.3" y="618.4"/>
<use href="#cm" x="307.4" y="605.0"/>
<use href="#cm" x="245.7" y="597.1"/>
<use href="#cm" x="259.4" y="612.7"/>
<use href="#cm" x="324.5" y="568.3"/>
<use href="#cm" x="277.4" y="568.3"/>
<use href="#cm" x="274.0" y="601.8"/>
<use href="#cm" x="270.1" y="603.5"/>
<use href="#cm" x="266.9" y="563.9"/>
<use href="#cm" x="266.9" y="561.3"/>
<use href="#cm" x="306.5" y="602.7"/>
<use href="#cm" x="221.8" y="600.5"/>
<use href="#cm" x="255.2" y="551.0"/>
<use href="#cm" x="321.1" y="627.7"/>
<use href="#cm" x="337.2" y="589.7"/>
<use href="#cm" x="311.1" y="623.2"/>
<use href="#cm" x="319.4" y="591.4"/>
<use href="#cm" x="280.6" y="582.9"/>
<use href="#cm" x="233.1" y="576.1"/>
<use href="#cm" x="263.8" y="566.5"/>
<use href="#cm" x="241.1" y="545.4"/>
<use href="#cm" x="238.9" y="613.7"/>
<use href="#cm" x="277.6" y="569.1"/>
<use href="#cm" x="304.0" y="552.3"/>
<use href="#cm" x="323.9" y="620.9"/>
<use href="#cm" x="272.5" y="616.6"/>
<use href="#cm" x="266.0" y="609.0"/>
<use href="#cm" x="278.1" y="615.6"/>
<use href="#cm" x="295.4" y="619.3"/>
<use href="#cm" x="272.8" y="558.1"/>
<use href="#cm" x="271.3" y="597.6"/>
<use href="#cm" x="281.4" y="606.4"/>
<use href="#cm" x="209.8" y="585.9"/>
<use href="#cm" x="288.6" y="607.1"/>
<use href="#cm" x="268.4" y="579.5"/>
<use href="#cm" x="323.1" y="582.6"/>
<use href="#cm" x="262.8" y="621.6"/>
<use href="#cm" x="307.5" y="605.7"/>
<use href="#cm" x="241.4" y="609.3"/>
<use href="#cm" x="307.5" y="556.3"/>
<use href="#cm" x="253.6" y="614.6"/>
<use href="#cm" x="248.0" y="558.4"/>
<use href="#cm" x="326.6" y="603.6"/>
<use href="#cm" x="252.5" y="606.2"/>
<use href="#cm" x="320.8" y="609.7"/>
<use href="#cm" x="217.9" y="591.1"/>
<use href="#cm" x="257.9" y="574.9"/>
<use href="#cm" x="298.6" y="627.4"/>
<use href="#cm" x="265.2" y="637.4"/>
<use href="#cm" x="322.0" y="579.7"/>
<use href="#cm" x="267.8" y="591.6"/>
<use href="#cm" x="279.6" y="555.4"/>
<use href="#cm" x="265.0" y="567.7"/>
<use href="#cm" x="269.6" y="590.1"/>
<use href="#cm" x="273.4" y="572.9"/>
<use href="#cm" x="232.2" y="586.6"/>
<use href="#cm" x="308.1" y="624.0"/>
<use href="#cm" x="289.6" y="613.5"/>
<use href="#cm" x="249.0" y="561.2"/>
<use href="#cm" x="280.3" y="597.0"/>
<use href="#cm" x="329.1" y="620.8"/>
<use href="#cm" x="318.3" y="640.4"/>
<use href="#cm" x="308.4" y="592.3"/>
<use href="#cm" x="299.7" y="577.0"/>
<use href="#cm" x="252.3" y="554.2"/>
<use href="#cm" x="292.8" y="603.1"/>
<use href="#cm" x="334.5" y="587.7"/>
<use href="#cm" x="256.4" y="610.1"/>
<use href="#cm" x="263.0" y="618.3"/>
<use href="#cm" x="248.8" y="625.8"/>
<use href="#cm" x="280.2" y="584.2"/>
<use href="#cm" x="324.5" y="627.8"/>
<use href="#cm" x="250.3" y="577.6"/>
<use href="#cm" x="241.9" y="553.1"/>
<use href="#cm" x="253.1" y="578.6"/>
<use href="#cm" x="229.0" y="607.8"/>
<use href="#cm" x="269.7" y="642.2"/>
<use href="#cm" x="272.0" y="622.0"/>
<use href="#cm" x="265.8" y="546.5"/>
<use href="#cm" x="345.5" y="600.6"/>
<use href="#cm" x="308.6" y="642.9"/>
<use href="#cm" x="240.3" y="585.1"/>
<use href="#cm" x="332.0" y="637.6"/>
<use href="#cm" x="291.2" y="572.2"/>
<use href="#cm" x="265.2" y="575.3"/>
<use href="#cm" x="307.4" y="581.9"/>
<use href="#cm" x="243.6" y="584.8"/>
<use href="#cm" x="315.5" y="590.5"/>
<use href="#cm" x="298.5" y="626.9"/>
<use href="#cm" x="299.8" y="601.2"/>
<use href="#cm" x="315.9" y="614.9"/>
<use href="#cm" x="308.4" y="615.2"/>
<use href="#cm" x="285.2" y="569.5"/>
<use href="#cm" x="249.6" y="590.7"/>
<use href="#cm" x="311.1" y="580.3"/>
<use href="#cm" x="250.0" y="575.6"/>
<use href="#cm" x="213.2" y="598.2"/>
<use href="#cm" x="326.9" y="573.5"/>
<use href="#cm" x="339.9" y="616.5"/>
<use href="#cm" x="257.2" y="604.5"/>
<use href="#cm" x="312.4" y="600.5"/>
<use href="#cm" x="306.7" y="644.4"/>
<use href="#cm" x="236.0" y="590.4"/>
<use href="#cm" x="352.8" y="625.9"/>
<use href="#cm" x="262.4" y="533.7"/>
<use href="#cm" x="257.0" y="586.1"/>
<use href="#cm" x="225.0" y="586.4"/>
<use href="#cm" x="344.5" y="633.0"/>
<use href="#cm" x="235.2" y="586.1"/>
<use href="#cm" x="329.6" y="582.8"/>
<use href="#cm" x="259.2" y="582.8"/>
<use href="#cm" x="229.5" y="558.6"/>
<use href="#cm" x="250.8" y="546.6"/>
<use href="#cm" x="270.6" y="629.2"/>
<use href="#cm" x="331.6" y="599.3"/>
<use href="#cm" x="300.5" y="614.0"/>
<use href="#cm" x="273.3" y="585.0"/>
<use href="#cm" x="307.1" y="639.9"/>
<use href="#cm" x="289.3" y="590.5"/>
<use href="#cm" x="298.6" y="621.8"/>
<use href="#cm" x="316.4" y="556.2"/>
<use href="#cm" x="291.4" y="605.2"/>
<use href="#cm" x="283.4" y="583.5"/>
<use href="#cm" x="213.3" y="558.1"/>
<use href="#cm" x="261.2" y="600.5"/>
<use href="#cm" x="294.9" y="599.8"/>
<use href="#cm" x="325.1" y="632.2"/>
<use href="#cm" x="256.6" y="600.3"/>
<use href="#cm" x="276.1" y="633.2"/>
<use href="#cm" x="228.8" y="594.3"/>
<use href="#cm" x="283.9" y="572.7"/>
<use href="#cm" x="216.1" y="565.1"/>
<use href="#cm" x="264.0" y="559.7"/>
<use href="#cm" x="256.8" y="568.0"/>
<use href="#cm" x="248.3" y="588.8"/>
<use href="#cm" x="329.0" y="617.6"/>
<use href="#cm" x="282.0" y="567.6"/>
<use href="#cm" x="270.4" y="627.5"/>
<use href="#cm" x="221.7" y="571.0"/>
<use href="#cm" x="302.5" y="570.6"/>
<use href="#cm" x="261.9" y="595.1"/>
<use href="#cm" x="247.9" y="555.3"/>
<use href="#cm" x="233.3" y="568.8"/>
<use href="#cm" x="241.6" y="592.2"/>
<use href="#cm" x="271.5" y="603.8"/>
<use href="#cm" x="309.0" y="578.6"/>
<use href="#cm" x="293.7" y="589.8"/>
<use href="#cm" x="258.0" y="592.6"/>
<use href="#cm" x="229.4" y="599.4"/>
<use href="#cm" x="257.8" y="607.6"/>
<use href="#cm" x="257.1" y="564.3"/>
<use href="#cm" x="251.7" y="569.0"/>
<use href="#cm" x="327.0" y="586.8"/>
<use href="#cm" x="246.0" y="578.2"/>
<use href="#cm" x="270.5" y="577.5"/>
<use href="#cm" x="217.7" y="568.0"/>
<use href="#cm" x="305.3" y="597.2"/>
<use href="#cm" x="220.2" y="583.8"/>
<use href="#cm" x="295.5" y="649.3"/>
<use href="#cm" x="298.7" y="581.0"/>
<use href="#cm" x="312.2" y="646.9"/>
<use href="#cm" x="274.6" y="610.8"/>
<use href="#cm" x="287.7" y="567.2"/>
<use href="#cm" x="252.6" y="605.3"/>
<use href="#cm" x="304.2" y="592.1"/>
<use href="#cm" x="258.1" y="546.1"/>
<use href="#cm" x="261.2" y="587.6"/>
<use href="#cm" x="326.9" y="591.5"/>
<use href="#cm" x="227.9" y="555.2"/>
<use href="#cm" x="255.0" y="582.0"/>
<use href="#cm" x="263.1" y="630.8"/>
<use href="#cm" x="281.2" y="567.1"/>
<use href="#cm" x="333.2" y="618.3"/>
<use href="#cm" x="266.8" y="559.7"/>
<use href="#cm" x="258.1" y="585.7"/>
<use href="#cm" x="331.4" y="642.2"/>
<use href="#cm" x="226.9" y="579.4"/>
<use href="#cm" x="237.8" y="619.7"/>
<use href="#cm" x="255.2" y="578.5"/>
<use href="#cm" x="318.6" y="649.8"/>
<use href="#cm" x="204.3" y="605.9"/>
<use href="#cm" x="237.8" y="608.0"/>
<use href="#cm" x="270.9" y="567.1"/>
<use href="#cm" x="251.3" y="575.0"/>
<use href="#cm" x="289.6" y="625.6"/>
<use href="#cm" x="336.1" y="606.3"/>
<use href="#cm" x="314.7" y="600.9"/>
<use href="#cm" x="317.6" y="598.7"/>
<use href="#cm" x="324.9" y="624.5"/>
<use href="#cm" x="221.9" y="600.1"/>
<use href="#cm" x="238.8" y="542.2"/>
<use href="#cm" x="294.5" y="629.2"/>
<use href="#cm" x="262.7" y="574.0"/>
<use href="#cm" x="269.1" y="570.7"/>
<use href="#cm" x="301.7" y="603.0"/>
<use href="#cm" x="238.2" y="593.7"/>
<use href="#cm" x="273.9" y="605.7"/>
<use href="#cm" x="289.3" y="605.1"/>
<use href="#cm" x="222.6" y="545.7"/>
<use href="#cm" x="275.2" y="618.0"/>
<use href="#cm" x="245.2" y="585.7"/>
<use href="#cm" x="334.3" y="583.5"/>
<use href="#cm" x="274.2" y="612.3"/>
<use href="#cm" x="298.9" y="614.1"/>
<use href="#cm" x="269.5" y="623.1"/>
<use href="#cm" x="254.2" y="590.9"/>
<use href="#cm" x="332.1" y="602.0"/>
<use href="#cm" x="249.5" y="604.4"/>
<use href="#cm" x="305.1" y="588.4"/>
<use href="#cm" x="306.4" y="565.6"/>
<use href="#cm" x="227.0" y="597.7"/>
<use href="#cm" x="293.1" y="543.2"/>
<use href="#cm" x="308.5" y="563.5"/>
<use href="#cm" x="244.3" y="582.9"/>
<use href="#cm" x="225.1" y="563.5"/>
<use href="#cm" x="223.9" y="609.3"/>
<use href="#cm" x="263.9" y="554.4"/>
<use href="#cm" x="260.9" y="546.4"/>
<use href="#cm" x="261.9" y="618.3"/>
<use href="#cm" x="231.4" y="568.5"/>
<use href="#cm" x="275.4" y="605.8"/>
<use href="#cm" x="275.9" y="595.9"/>
<use href="#cm" x="228.4" y="615.9"/>
<use href="#cm" x="265.7" y="619.0"/>
<use href="#cm" x="263.5" y="594.7"/>
<use href="#cm" x="315.8" y="627.1"/>
<use href="#cm" x="278.0" y="606.5"/>
<use href="#cm" x="220.4" y="598.9"/>
<use href="#cm" x="252.3" y="563.5"/>
<use href="#cm" x="355.7" y="614.4"/>
<use href="#cm" x="248.8" y="635.1"/>
<use href="#cm" x="219.0" y="552.3"/>
<use href="#cm" x="313.8" y="645.0"/>
<use href="#cm" x="246.4" y="623.8"/>
<use href="#cm" x="264.0" y="624.1"/>
<use href="#cm" x="260.1" y="571.0"/>
<use href="#cm" x="273.5" y="582.2"/>
<use href="#cm" x="241.6" y="567.2"/>
<use href="#cm" x="294.9" y="594.3"/>
<use href="#cm" x="285.9" y="559.9"/>
<use href="#cm" x="254.0" y="579.4"/>
<use href="#cm" x="262.8" y="606.7"/>
<use href="#cm" x="244.8" y="607.9"/>
<use href="#cm" x="314.1" y="626.5"/>
<use href="#cm" x="257.3" y="600.9"/>
<use href="#cm" x="254.4" y="613.9"/>
<use href="#cm" x="314.6" y="620.4"/>
<use href="#cm" x="252.7" y="591.8"/>
<use href="#cm" x="264.0" y="632.6"/>
<use href="#cm" x="205.8" y="602.9"/>
<use href="#cm" x="284.0" y="620.2"/>
<use href="#cm" x="340.4" y="613.8"/>
<use href="#cm" x="249.4" y="591.2"/>
<use href="#cm" x="339.4" y="596.4"/>
<use href="#cm" x="262.7" y="567.8"/>
<use href="#cm" x="265.3" y="633.8"/>
<use href="#cm" x="262.2" y="587.0"/>
<use href="#cm" x="334.5" y="639.3"/>
<use href="#cm" x="274.3" y="603.5"/>
<use href="#cm" x="320.9" y="573.8"/>
<use href="#cm" x="327.9" y="609.2"/>
<use href="#cm" x="248.1" y="563.9"/>
<use href="#cm" x="345.7" y="588.4"/>
<use href="#cm" x="219.6" y="565.0"/>
<use href="#cm" x="284.0" y="562.0"/>
<use href="#cm" x="357.8" y="611.7"/>
<use href="#cm" x="342.8" y="600.9"/>
<use href="#cm" x="259.8" y="587.1"/>
<use href="#cm" x="263.3" y="586.7"/>
<use href="#cm" x="264.2" y="638.2"/>
<use href="#cm" x="263.7" y="605.7"/>
<use href="#cm" x="285.6" y="593.0"/>
<use href="#cm" x="260.8" y="592.4"/>
<use href="#cm" x="220.6" y="575.8"/>
<use href="#cm" x="293.7" y="568.1"/>
<use href="#cm" x="289.0" y="570.9"/>
<use href="#cm" x="224.7" y="591.6"/>
<use href="#cm" x="275.4" y="637.4"/>
<use href="#cm" x="337.1" y="586.7"/>
<use href="#cm" x="242.2" y="588.4"/>
<use href="#cm" x="341.0" y="592.9"/>
<use href="#cm" x="299.2" y="578.1"/>
<use href="#cm" x="271.9" y="586.5"/>
<use href="#cm" x="258.9" y="582.3"/>
<use href="#cm" x="270.2" y="573.1"/>
<use href="#cm" x="257.6" y="597.7"/>
<use href="#cm" x="243.6" y="591.3"/>
<use href="#cm" x="298.1" y="599.9"/>
<use href="#cm" x="226.1" y="559.8"/>
<use href="#cm" x="262.2" y="552.1"/>
<use href="#cm" x="315.4" y="621.1"/>
<use href="#cm" x="251.5" y="591.1"/>
<use href="#cm" x="310.4" y="642.5"/>
<use href="#cm" x="278.9" y="574.8"/>
<use href="#cm" x="292.0" y="578.3"/>
<use href="#cm" x="277.4" y="565.4"/>
<use href="#cm" x="341.1" y="593.3"/>
<use href="#cm" x="248.5" y="622.7"/>
<use href="#cm" x="323.6" y="573.8"/>
<use href="#cm" x="251.9" y="623.7"/>
<use href="#cm" x="260.5" y="576.3"/>
<use href="#cm" x="298.9" y="574.0"/>
<use href="#cm" x="289.3" y="572.7"/>
<use href="#cm" x="259.4" y="625.3"/>
<use href="#cm" x="264.3" y="578.9"/>
<use href="#cm" x="315.2" y="648.5"/>
<use href="#cm" x="297.3" y="608.6"/>
<use href="#cm" x="334.4" y="635.1"/>
<use href="#cm" x="221.2" y="563.7"/>
<use href="#cm" x="243.1" y="571.3"/>
<use href="#cm" x="280.2" y="575.5"/>
<use href="#cm" x="269.7" y="563.8"/>
<use href="#cm" x="286.5" y="638.2"/>
<use href="#cm" x="257.6" y="604.7"/>
<use href="#cm" x="320.3" y="564.2"/>
<use href="#cm" x="279.4" y="571.2"/>
<use href="#cm" x="274.8" y="605.6"/>
<use href="#cm" x="323.9" y="612.3"/>
<use href="#cm" x="223.8" y="559.1"/>
<use href="#cm" x="297.2" y="580.4"/>
<use href="#cm" x="257.1" y="604.2"/>
<use href="#cm" x="316.1" y="615.8"/>
<use href="#cm" x="276.5" y="597.3"/>
<use href="#cm" x="327.4" y="627.0"/>
<use href="#cm" x="266.7" y="546.6"/>
<use href="#cm" x="280.2" y="570.9"/>
<use href="#cm" x="343.6" y="593.4"/>
<use href="#cm" x="251.1" y="630.0"/>
<use href="#cm" x="259.5" y="633.6"/>
<use href="#cm" x="322.8" y="653.3"/>
<use href="#cm" x="237.5" y="618.2"/>
<use href="#cm" x="324.8" y="604.1"/>
<use href="#cm" x="273.1" y="605.2"/>
<use href="#cm" x="239.3" y="614.7"/>
<use href="#cm" x="312.9" y="568.0"/>
<use href="#cm" x="302.1" y="596.7"/>
<use href="#cm" x="313.0" y="573.0"/>
<use href="#cm" x="226.0" y="608.2"/>
<use href="#cm" x="223.7" y="599.6"/>
<use href="#cm" x="261.8" y="568.8"/>
<use href="#cm" x="293.1" y="611.7"/>
<use href="#cm" x="287.9" y="578.1"/>
<use href="#cm" x="292.7" y="623.8"/>
<use href="#cm" x="267.3" y="587.7"/>
<use href="#cm" x="226.6" y="614.1"/>
<use href="#cm" x="285.8" y="617.2"/>
<use href="#cm" x="275.8" y="611.2"/>
<use href="#cm" x="313.6" y="578.3"/>
<use href="#cm" x="259.1" y="633.1"/>
<use href="#cm" x="340.6" y="615.2"/>
<use href="#cm" x="274.5" y="621.4"/>
<use href="#cm" x="268.6" y="611.0"/>
<use href="#cm" x="271.0" y="564.7"/>
<use href="#cm" x="242.6" y="567.2"/>
<use href="#cm" x="247.6" y="530.4"/>
<use href="#cm" x="258.7" y="604.0"/>
<use href="#cm" x="308.2" y="597.3"/>
<use href="#cm" x="331.8" y="597.8"/>
<use href="#cm" x="240.0" y="578.4"/>
<use href="#cm" x="243.2" y="615.4"/>
<use href="#cm" x="306.8" y="644.0"/>
<use href="#cm" x="238.6" y="615.1"/>
<use href="#cm" x="270.4" y="563.1"/>
<use href="#cm" x="299.5" y="603.9"/>
<use href="#cm" x="320.1" y="572.4"/>
<use href="#cm" x="333.6" y="606.2"/>
<use href="#cm" x="290.6" y="649.0"/>
<use href="#cm" x="273.2" y="622.2"/>
<use href="#cm" x="286.0" y="594.6"/>
<use href="#cm" x="215.6" y="601.6"/>
<use href="#cm" x="310.1" y="555.4"/>
<use href="#cm" x="300.7" y="623.9"/>
<use href="#cm" x="216.1" y="576.0"/>
<use href="#cm" x="275.5" y="583.9"/>
<use href="#cm" x="271.2" y="612.1"/>
<use href="#cm" x="282.7" y="612.2"/>
<use href="#cm" x="264.4" y="551.7"/>
<use href="#cm" x="221.2" y="573.3"/>
<use href="#cm" x="228.9" y="581.6"/>
<use href="#cm" x="313.7" y="612.4"/>
<use href="#cm" x="329.8" y="574.2"/>
<use href="#cm" x="293.1" y="542.7"/>
<use href="#cm" x="265.9" y="637.8"/>
<use href="#cm" x="264.2" y="566.1"/>
<use href="#cm" x="281.2" y="622.1"/>
<use href="#cm" x="214.8" y="554.6"/>
<use href="#cm" x="267.8" y="607.3"/>
<use href="#cm" x="283.4" y="609.2"/>
<use href="#cm" x="249.3" y="631.0"/>
<use href="#cm" x="305.5" y="608.3"/>
<use href="#cm" x="275.7" y="563.8"/>
<use href="#cm" x="295.5" y="599.8"/>
<use href="#cm" x="351.8" y="607.2"/>
<use href="#cm" x="337.9" y="600.1"/>
<use href="#cm" x="317.8" y="591.7"/>
<use href="#cm" x="232.0" y="619.7"/>
<use href="#cm" x="255.8" y="551.7"/>
<use href="#cm" x="284.8" y="546.9"/>
<use href="#cm" x="245.6" y="606.3"/>
<use href="#cm" x="295.6" y="602.0"/>
<use href="#cm" x="234.5" y="601.0"/>
<use href="#cm" x="316.1" y="581.5"/>
<use href="#cm" x="273.8" y="611.8"/>
<use href="#cm" x="256.8" y="608.0"/>
<use href="#cm" x="255.1" y="571.7"/>
<use href="#cm" x="268.4" y="595.5"/>
<use href="#cm" x="314.0" y="612.1"/>
<use href="#cm" x="233.3" y="579.8"/>
<use href="#cm" x="286.2" y="568.7"/>
<use href="#cm" x="264.8" y="594.9"/>
<use href="#cm" x="316.9" y="633.6"/>
<use href="#cm" x="253.9" y="597.9"/>
<use href="#cm" x="277.6" y="589.4"/>
<use href="#cm" x="245.6" y="598.7"/>
<use href="#cm" x="274.2" y="621.3"/>
<use href="#cm" x="236.7" y="578.5"/>
<use href="#cm" x="256.1" y="581.6"/>
<use href="#cm" x="275.0" y="635.5"/>
<use href="#cm" x="277.4" y="562.0"/>
<use href="#cm" x="241.9" y="568.2"/>
<use href="#cm" x="257.1" y="586.1"/>
<use href="#cm" x="268.5" y="599.4"/>
<use href="#cm" x="268.0" y="568.2"/>
<use href="#cm" x="296.3" y="583.4"/>
<use href="#cm" x="329.1" y="620.4"/>
<use href="#cm" x="334.1" y="611.9"/>
<use href="#cm" x="275.9" y="541.3"/>
<use href="#cm" x="277.3" y="613.1"/>
<use href="#cm" x="291.2" y="569.1"/>
<use href="#cm" x="244.9" y="620.9"/>
<use href="#cm" x="233.3" y="616.3"/>
<use href="#cm" x="309.1" y="559.8"/>
<use href="#cm" x="281.8" y="620.7"/>
<use href="#cm" x="313.9" y="584.4"/>
<use href="#cm" x="327.9" y="636.6"/>
<use href="#cm" x="330.0" y="608.7"/>
<use href="#cm" x="293.0" y="650.5"/>
<use href="#cm" x="287.6" y="544.7"/>
<use href="#cm" x="291.5" y="626.0"/>
<use href="#cm" x="264.6" y="620.6"/>
<use href="#cm" x="319.1" y="594.0"/>
<use href="#cm" x="273.1" y="624.0"/>
<use href="#cm" x="212.6" y="611.2"/>
<use href="#cm" x="317.2" y="595.2"/>
<use href="#cm" x="306.3" y="643.4"/>
<use href="#cm" x="277.0" y="588.3"/>
<use href="#cm" x="244.9" y="591.8"/>
<use href="#cm" x="335.7" y="593.7"/>
<use href="#cm" x="333.7" y="642.4"/>
<use href="#cm" x="271.0" y="625.6"/>
<use href="#cm" x="327.8" y="570.2"/>
<use href="#cm" x="218.0" y="598.9"/>
<use href="#cm" x="205.3" y="580.3"/>
<use href="#cm" x="292.3" y="593.6"/>
<use href="#cm" x="294.5" y="557.5"/>
<use href="#cm" x="306.4" y="629.0"/>
<use href="#cm" x="250.9" y="576.9"/>
<use href="#cm" x="313.9" y="588.0"/>
<use href="#cm" x="259.9" y="639.3"/>
<use href="#cm" x="256.9" y="632.8"/>
<use href="#cm" x="317.5" y="594.9"/>
<use href="#cm" x="270.9" y="596.8"/>
<use href="#cm" x="311.3" y="588.9"/>
<use href="#cm" x="344.4" y="603.0"/>
<use href="#cm" x="319.9" y="582.8"/>
<use href="#cm" x="296.9" y="569.2"/>
<use href="#cm" x="240.2" y="544.0"/>
<use href="#cm" x="226.8" y="562.8"/>
<use href="#cm" x="272.5" y="548.2"/>
<use href="#cm" x="291.3" y="573.2"/>
<use href="#cm" x="292.0" y="553.0"/>
<use href="#cm" x="219.7" y="574.6"/>
<use href="#cm" x="288.2" y="564.2"/>
<use href="#cm" x="339.5" y="626.1"/>
<use href="#cm" x="238.4" y="622.9"/>
<use href="#cm" x="291.7" y="578.4"/>
<use href="#cm" x="310.1" y="623.3"/>
<use href="#cm" x="317.1" y="596.6"/>
<use href="#cm" x="288.9" y="568.3"/>
<use href="#cm" x="328.9" y="575.2"/>
<use href="#cm" x="321.4" y="626.7"/>
<use href="#cm" x="319.9" y="569.0"/>
<use href="#cm" x="345.1" y="591.6"/>
<use href="#cm" x="348.6" y="603.1"/>
<use href="#cm" x="285.7" y="627.4"/>
<use href="#cm" x="319.3" y="597.8"/>
<use href="#cm" x="275.4" y="602.3"/>
<use href="#cm" x="263.4" y="629.6"/>
<use href="#cm" x="271.9" y="611.8"/>
<use href="#cm" x="267.2" y="609.2"/>
<use href="#cm" x="247.3" y="622.3"/>
<use href="#cm" x="306.9" y="597.3"/>
<use href="#cm" x="311.2" y="607.6"/>
<use href="#cm" x="258.4" y="587.3"/>
<use href="#cm" x="304.4" y="579.8"/>
<use href="#cm" x="283.4" y="631.4"/>
<use href="#cm" x="257.0" y="560.8"/>
<use href="#cm" x="300.5" y="613.9"/>
<use href="#cm" x="242.5" y="569.7"/>
<use href="#cm" x="252.6" y="560.3"/>
<use href="#cm" x="257.2" y="560.8"/>
<use href="#cm" x="254.1" y="568.6"/>
<use href="#cm" x="310.3" y="564.4"/>
<use href="#cm" x="310.0" y="617.0"/>
<use href="#cm" x="255.6" y="612.1"/>
<use href="#cm" x="212.9" y="603.3"/>
<use href="#cm" x="256.5" y="597.1"/>
<use href="#cm" x="270.8" y="639.0"/>
<use href="#cm" x="324.8" y="582.9"/>
<use href="#cm" x="285.7" y="540.0"/>
<use href="#cm" x="324.1" y="568.4"/>
<use href="#cm" x="252.0" y="637.0"/>
<use href="#cm" x="275.3" y="562.2"/>
<use href="#cm" x="255.8" y="629.0"/>
<use href="#cm" x="256.6" y="583.7"/>
<use href="#cm" x="261.7" y="586.2"/>
<use href="#cm" x="244.9" y="570.0"/>
<use href="#cm" x="310.6" y="640.3"/>
<use href="#cm" x="285.0" y="585.4"/>
<use href="#cm" x="322.0" y="614.2"/>
<use href="#cm" x="268.1" y="589.9"/>
<use href="#cm" x="325.8" y="575.9"/>
<use href="#cm" x="260.3" y="624.6"/>
<use href="#cm" x="208.3" y="567.1"/>
<use href="#cm" x="305.1" y="584.1"/>
<use href="#cm" x="308.5" y="602.5"/>
<use href="#cm" x="254.6" y="578.5"/>
<use href="#cm" x="333.8" y="618.1"/>
<use href="#cm" x="238.7" y="551.6"/>
<use href="#cm" x="219.0" y="579.6"/>
<use href="#cm" x="281.7" y="601.6"/>
<use href="#cm" x="228.9" y="556.1"/>
<use href="#cm" x="278.9" y="640.0"/>
<use href="#cm" x="289.7" y="587.9"/>
<use href="#cm" x="247.1" y="541.4"/>
<use href="#cm" x="260.0" y="571.2"/>
<use href="#cm" x="312.3" y="574.6"/>
<use href="#cm" x="311.5" y="614.6"/>
<use href="#cm" x="211.4" y="578.8"/>
<use href="#cm" x="313.6" y="627.0"/>
<use href="#cm" x="289.0" y="562.8"/>
<use href="#cm" x="219.3" y="581.4"/>
<use href="#cm" x="270.9" y="566.9"/>
<use href="#cm" x="246.2" y="574.1"/>
<use href="#cm" x="283.7" y="630.6"/>
<use href="#cm" x="274.6" y="588.9"/>
<use href="#cm" x="312.7" y="584.8"/>
<use href="#cm" x="302.5" y="632.3"/>
<use href="#cm" x="210.0" y="575.4"/>
<use href="#cm" x="304.3" y="611.4"/>
<use href="#cm" x="240.5" y="560.4"/>
<use href="#cm" x="249.6" y="565.8"/>
<use href="#cm" x="270.2" y="601.1"/>
<use href="#cm" x="259.7" y="590.4"/>
<use href="#cm" x="274.0" y="643.2"/>
<use href="#cm" x="270.1" y="598.4"/>
<use href="#cm" x="322.5" y="610.1"/>
<use href="#cm" x="353.6" y="598.5"/>
<use href="#cm" x="308.3" y="592.7"/>
<use href="#cm" x="150.6" y="465.6"/>
<use href="#cm" x="152.2" y="545.3"/>
<use href="#cm" x="217.0" y="513.6"/>
<use href="#cm" x="223.6" y="518.0"/>
<use href="#cm" x="312.8" y="507.0"/>
<use href="#cm" x="303.0" y="527.6"/>
<use href="#cm" x="315.0" y="535.0"/>
<use href="#cm" x="343.0" y="541.0"/>
<use href="#cm" x="334.6" y="549.5"/>
<use href="#cm" x="339.0" y="554.0"/>
<use href="#cm" x="377.0" y="561.6"/>
<use href="#cm" x="345.5" y="563.0"/>
<use href="#cm" x="355.0" y="570.0"/>
<use href="#cm" x="351.6" y="575.0"/>
<use href="#cm" x="367.0" y="594.0"/>
<use href="#cm" x="373.0" y="600.0"/>
<use href="#cm" x="360.0" y="597.0"/>
<use href="#cm" x="365.0" y="606.5"/>
<use href="#cm" x="368.6" y="611.0"/>
<use href="#cm" x="386.8" y="624.7"/>
<use href="#cm" x="373.4" y="635.6"/>
<use href="#cm" x="357.7" y="628.0"/>
<use href="#cm" x="338.0" y="640.5"/>
<use href="#cm" x="339.5" y="649.0"/>
<use href="#cm" x="293.0" y="668.0"/>
<use href="#cm" x="312.8" y="675.7"/>
<use href="#cm" x="322.5" y="669.6"/>
<use href="#cm" x="328.5" y="673.0"/>
<use href="#cm" x="373.4" y="499.7"/>
<use href="#cm" x="391.7" y="495.0"/>
<use href="#cm" x="393.0" y="524.0"/>
<use href="#cm" x="402.6" y="520.0"/>
<use href="#cm" x="183.6" y="578.6"/>
<use href="#cm" x="196.6" y="574.0"/>
<use href="#cm" x="194.0" y="589.0"/>
<use href="#cm" x="434.9" y="571.9"/>
<use href="#cm" x="472.5" y="571.9"/>
<use href="#cm" x="258.5" y="527.0"/>
<use href="#cm" x="206.0" y="613.0"/>
<use href="#cm" x="302.0" y="663.0"/>
<use href="#cm" x="309.0" y="660.0"/>
<use href="#cm" x="276.0" y="497.5"/>
</g>
<path d="M342.80 605.12L342.77 603.73L342.68 602.34L342.54 600.95L342.33 599.57L342.07 598.20L341.75 596.83L341.37 595.48L340.94 594.13L340.45 592.80L339.90 591.49L339.30 590.19L338.65 588.91L337.94 587.64L337.18 586.40L336.36 585.19L335.50 584.00L334.59 582.83L333.62 581.69L332.61 580.58L331.56 579.50L330.46 578.45L329.31 577.43L328.13 576.44L326.90 575.50L325.64 574.58L324.33 573.71L322.99 572.87L321.62 572.07L320.21 571.31L318.77 570.60L317.31 569.92L315.81 569.29L314.29 568.70L312.75 568.16L311.18 567.66L309.60 567.21L307.99 566.80L306.37 566.44L304.74 566.13L303.09 565.86L301.44 565.64L299.77 565.47L298.10 565.35L296.43 565.28L294.75 565.26L293.07 565.28L291.40 565.35L289.73 565.47L288.06 565.64L286.41 565.86L284.76 566.13L283.13 566.44L281.51 566.80L279.90 567.21L278.32 567.66L276.75 568.16L275.21 568.70L273.69 569.29L272.19 569.92L270.73 570.60L269.29 571.31L267.88 572.07L266.51 572.87L265.17 573.71L263.86 574.58L262.60 575.50L261.37 576.44L260.19 577.43L259.04 578.45L257.94 579.50L256.89 580.58L255.88 581.69L254.91 582.83L254.00 584.00L253.14 585.19L252.32 586.40L251.56 587.64L250.85 588.91L250.20 590.19L249.60 591.49L249.05 592.80L248.56 594.13L248.13 595.48L247.75 596.83L247.43 598.20L247.17 599.57L246.96 600.95L246.82 602.34L246.73 603.73L246.70 605.12L246.73 606.51L246.82 607.90L246.96 609.29L247.17 610.67L247.43 612.04L247.75 613.41L248.13 614.76L248.56 616.11L249.05 617.44L249.60 618.75L250.20 620.05L250.85 621.33L251.56 622.60L252.32 623.84L253.14 625.05L254.00 626.24L254.91 627.41L255.88 628.55L256.89 629.66L257.94 630.74L259.04 631.79L260.19 632.81L261.37 633.80L262.60 634.74L263.86 635.66L265.17 636.53L266.51 637.37L267.88 638.17L269.29 638.93L270.72 639.64L272.19 640.32L273.69 640.95L275.21 641.54L276.75 642.08L278.32 642.58L279.90 643.03L281.51 643.44L283.13 643.80L284.76 644.11L286.41 644.38L288.06 644.60L289.73 644.77L291.40 644.89L293.07 644.96L294.75 644.98L296.43 644.96L298.10 644.89L299.77 644.77L301.44 644.60L303.09 644.38L304.74 644.11L306.37 643.80L307.99 643.44L309.60 643.03L311.18 642.58L312.75 642.08L314.29 641.54L315.81 640.95L317.31 640.32L318.77 639.64L320.21 638.93L321.62 638.17L322.99 637.37L324.33 636.53L325.64 635.66L326.90 634.74L328.13 633.80L329.31 632.81L330.46 631.79L331.56 630.74L332.61 629.66L333.62 628.55L334.59 627.41L335.50 626.24L336.36 625.05L337.18 623.84L337.94 622.60L338.65 621.33L339.30 620.05L339.90 618.75L340.45 617.44L340.94 616.11L341.37 614.76L341.75 613.41L342.07 612.04L342.33 610.67L342.54 609.29L342.68 607.90L342.77 606.51L342.80 605.12" fill="none" stroke="#0000ff" stroke-width="2.5" stroke-dasharray="10.2 9.55"/>
<path d="M390.85 605.12L390.79 602.34L390.62 599.56L390.32 596.79L389.91 594.02L389.39 591.28L388.75 588.54L388.00 585.83L387.13 583.14L386.15 580.48L385.05 577.85L383.85 575.25L382.54 572.69L381.12 570.17L379.60 567.69L377.98 565.26L376.25 562.87L374.42 560.54L372.50 558.26L370.48 556.03L368.37 553.87L366.17 551.77L363.88 549.74L361.51 547.77L359.05 545.87L356.52 544.04L353.92 542.29L351.24 540.62L348.49 539.02L345.68 537.51L342.80 536.07L339.87 534.72L336.88 533.46L333.84 532.28L330.75 531.20L327.62 530.20L324.45 529.29L321.24 528.48L318.00 527.76L314.73 527.13L311.44 526.60L308.12 526.17L304.80 525.83L301.45 525.59L298.10 525.44L294.75 525.39L291.40 525.44L288.05 525.59L284.70 525.83L281.38 526.17L278.06 526.60L274.77 527.13L271.50 527.76L268.26 528.48L265.05 529.29L261.88 530.20L258.75 531.20L255.66 532.28L252.62 533.46L249.63 534.72L246.70 536.07L243.82 537.51L241.01 539.02L238.26 540.62L235.58 542.29L232.98 544.04L230.45 545.87L227.99 547.77L225.62 549.74L223.33 551.77L221.13 553.87L219.02 556.03L217.00 558.26L215.08 560.54L213.25 562.87L211.52 565.26L209.90 567.69L208.38 570.17L206.96 572.69L205.65 575.25L204.45 577.85L203.35 580.48L202.37 583.14L201.50 585.83L200.75 588.54L200.11 591.28L199.59 594.02L199.18 596.79L198.88 599.56L198.71 602.34L198.65 605.12L198.71 607.90L198.88 610.68L199.18 613.45L199.59 616.22L200.11 618.96L200.75 621.70L201.50 624.41L202.37 627.10L203.35 629.76L204.45 632.39L205.65 634.99L206.96 637.55L208.38 640.07L209.90 642.55L211.52 644.98L213.25 647.37L215.08 649.70L217.00 651.98L219.02 654.21L221.13 656.37L223.33 658.47L225.62 660.50L227.99 662.47L230.45 664.37L232.98 666.20L235.58 667.95L238.26 669.62L241.01 671.22L243.82 672.73L246.70 674.17L249.63 675.52L252.62 676.78L255.66 677.96L258.75 679.04L261.88 680.04L265.05 680.95L268.26 681.76L271.50 682.48L274.77 683.11L278.06 683.64L281.38 684.07L284.70 684.41L288.05 684.65L291.40 684.80L294.75 684.85L298.10 684.80L301.45 684.65L304.80 684.41L308.12 684.07L311.44 683.64L314.73 683.11L318.00 682.48L321.24 681.76L324.45 680.95L327.62 680.04L330.75 679.04L333.84 677.96L336.88 676.78L339.87 675.52L342.80 674.17L345.68 672.73L348.49 671.22L351.24 669.62L353.92 667.95L356.52 666.20L359.05 664.37L361.51 662.47L363.88 660.50L366.17 658.47L368.37 656.37L370.48 654.21L372.50 651.98L374.42 649.70L376.25 647.37L377.98 644.98L379.60 642.55L381.12 640.07L382.54 637.55L383.85 634.99L385.05 632.39L386.15 629.76L387.13 627.10L388.00 624.41L388.75 621.70L389.39 618.96L389.91 616.22L390.32 613.45L390.62 610.68L390.79 607.90L390.85 605.12" fill="none" stroke="#000" stroke-width="2.5" stroke-dasharray="10.2 9.55"/>
<path d="M54.50 738.0v-4.5M54.50 405.8v4.5M134.58 738.0v-4.5M134.58 405.8v4.5M214.67 738.0v-4.5M214.67 405.8v4.5M294.75 738.0v-4.5M294.75 405.8v4.5M374.83 738.0v-4.5M374.83 405.8v4.5M454.92 738.0v-4.5M454.92 405.8v4.5M535.00 738.0v-4.5M535.00 405.8v4.5M54.5 738.00h4.5M535.0 738.00h-4.5M54.5 671.56h4.5M535.0 671.56h-4.5M54.5 605.12h4.5M535.0 605.12h-4.5M54.5 538.68h4.5M535.0 538.68h-4.5M54.5 472.24h4.5M535.0 472.24h-4.5M54.5 405.80h4.5M535.0 405.80h-4.5" stroke="#333" stroke-width="1" fill="none"/>
<rect x="54.5" y="405.8" width="480.5" height="332.2" fill="none" stroke="#3a3a3a" stroke-width="1.1"/>
<text x="54.5" y="761.0" font-size="17" text-anchor="middle">−3</text>
<text x="134.6" y="761.0" font-size="17" text-anchor="middle">−2</text>
<text x="214.7" y="761.0" font-size="17" text-anchor="middle">−1</text>
<text x="294.8" y="761.0" font-size="17" text-anchor="middle">0</text>
<text x="374.8" y="761.0" font-size="17" text-anchor="middle">1</text>
<text x="454.9" y="761.0" font-size="17" text-anchor="middle">2</text>
<text x="535.0" y="761.0" font-size="17" text-anchor="middle">3</text>
<text x="47.3" y="744.2" font-size="17" text-anchor="end">−2</text>
<text x="47.3" y="677.8" font-size="17" text-anchor="end">−1</text>
<text x="47.3" y="611.3" font-size="17" text-anchor="end">0</text>
<text x="47.3" y="544.9" font-size="17" text-anchor="end">1</text>
<text x="47.3" y="478.4" font-size="17" text-anchor="end">2</text>
<text x="47.3" y="412.0" font-size="17" text-anchor="end">3</text>
<text x="294.8" y="782.8" font-size="17" text-anchor="middle">East (m)</text>
<text transform="translate(21.0 571.9) rotate(-90)" font-size="17" text-anchor="middle">North (m)</text>
<text x="250" y="604" class="b" font-size="16.8">DRMS = 0.6</text>
<text x="232" y="664" class="b" font-size="16.8">2DRMS = 1.2</text>
<path d="M62 799.3L68 809.6H56Z" fill="#0505ff" stroke="#1488d2" stroke-width="0.9"/>
<text x="91" y="812.4" font-size="17">Uncalibrated</text>
<path d="M216.8 802L223 813H210.6Z" fill="#00ff00" stroke="#0a72bd" stroke-width="1"/>
<text x="245.5" y="814.3" font-size="17">Conventional method</text>
<circle cx="426.2" cy="808.5" r="4.8" fill="#f910cf" stroke="#ff4a2e" stroke-width="1"/>
<text x="454.5" y="814.3" font-size="17">New method</text>
</svg></body></html>
